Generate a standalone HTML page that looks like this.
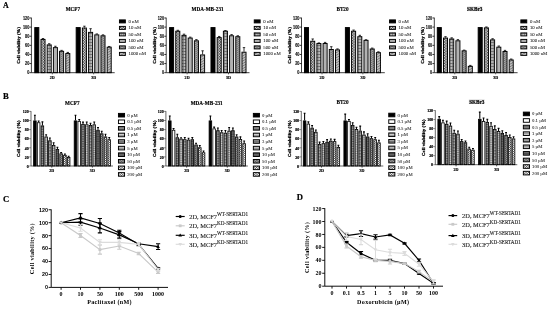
<!DOCTYPE html>
<html lang="en"><head><meta charset="utf-8"><title>Figure</title>
<style>html,body{margin:0;padding:0;background:#fff;}svg{display:block}</style></head>
<body><svg width="550" height="309" viewBox="0 0 550 309">
<rect width="550" height="309" fill="#fff"/>
<defs>
<filter id="soft" x="0" y="0" width="100%" height="100%" filterUnits="userSpaceOnUse"><feGaussianBlur stdDeviation="0.4"/></filter>
<pattern id="pa1" width="1.6" height="1.6" patternUnits="userSpaceOnUse"><rect width="1.6" height="1.6" fill="#fff"/><rect width="0.8" height="0.8" fill="#222"/><rect x="0.8" y="0.8" width="0.8" height="0.8" fill="#222"/></pattern>
<pattern id="pa2" width="2.4" height="3" patternUnits="userSpaceOnUse"><rect width="2.4" height="3" fill="#bababa"/><rect width="2.4" height="0.6" fill="#4a4a4a"/><rect x="1" width="0.5" height="3" fill="#5a5a5a"/></pattern>
<pattern id="pa3" width="1" height="1" patternUnits="userSpaceOnUse"><rect width="1" height="1" fill="#bebebe"/><rect width="0.5" height="0.5" fill="#909090"/></pattern>
<pattern id="pa4" width="1.8" height="1.8" patternUnits="userSpaceOnUse" patternTransform="rotate(-30)"><rect width="1.8" height="1.8" fill="#a8a8a8"/><rect width="1.8" height="0.6" fill="#555"/></pattern>
<pattern id="pa5" width="2.2" height="2.2" patternUnits="userSpaceOnUse" patternTransform="rotate(-30)"><rect width="2.2" height="2.2" fill="#bcbcbc"/><rect width="2.2" height="0.55" fill="#606060"/></pattern>

<pattern id="pb2" width="3.4" height="1.7" patternUnits="userSpaceOnUse"><rect width="3.4" height="1.7" fill="#9c9c9c"/><rect width="3.4" height="0.65" fill="#444"/></pattern>
<pattern id="pb3" width="2" height="1.8" patternUnits="userSpaceOnUse"><rect width="2" height="1.8" fill="#d2d2d2"/><rect width="2" height="0.6" fill="#777"/></pattern>
<pattern id="pb4" width="1.4" height="1.5" patternUnits="userSpaceOnUse"><rect width="1.4" height="1.5" fill="#aeaeae"/><rect width="1.4" height="0.6" fill="#555"/></pattern>
<pattern id="pb5" width="1.4" height="1.9" patternUnits="userSpaceOnUse"><rect width="1.4" height="1.9" fill="#c8c8c8"/><rect width="1.4" height="0.65" fill="#707070"/></pattern>
<pattern id="pb6" width="2" height="1.7" patternUnits="userSpaceOnUse"><rect width="2" height="1.7" fill="#707070"/><rect width="2" height="0.6" fill="#3a3a3a"/></pattern>
<pattern id="pb7" width="1.6" height="1.6" patternUnits="userSpaceOnUse" patternTransform="rotate(-35)"><rect width="1.6" height="1.6" fill="#a0a0a0"/><rect width="1.6" height="0.65" fill="#484848"/></pattern>
<pattern id="pb8" width="1.6" height="1.6" patternUnits="userSpaceOnUse" patternTransform="rotate(-40)"><rect width="1.6" height="1.6" fill="#fff"/><rect width="1.6" height="0.62" fill="#222"/></pattern>
<pattern id="pb9" width="1.6" height="1.6" patternUnits="userSpaceOnUse" patternTransform="rotate(40)"><rect width="1.6" height="1.6" fill="#fff"/><rect width="1.6" height="0.6" fill="#2a2a2a"/></pattern>
</defs><g filter="url(#soft)"><rect x="467.2" y="6.5" width="15.2" height="4.6" fill="#dedede"/>
<rect x="468.8" y="99.3" width="15.8" height="4.6" fill="#dedede"/>
<rect x="34.77" y="27.58" width="4.05" height="45.12" fill="#000" stroke="#000" stroke-width="0.95"/>
<path d="M43.00 38.96V38.50M41.80 38.50H44.20" stroke="#000" stroke-width="0.8" fill="none"/>
<rect x="40.98" y="39.43" width="4.05" height="33.27" fill="url(#pa1)" stroke="#000" stroke-width="0.95"/>
<path d="M49.20 44.43V43.74M48.00 43.74H50.40" stroke="#000" stroke-width="0.8" fill="none"/>
<rect x="47.17" y="44.90" width="4.05" height="27.80" fill="url(#pa2)" stroke="#000" stroke-width="0.95"/>
<path d="M55.40 47.16V46.25M54.20 46.25H56.60" stroke="#000" stroke-width="0.8" fill="none"/>
<rect x="53.38" y="47.64" width="4.05" height="25.06" fill="url(#pa3)" stroke="#000" stroke-width="0.95"/>
<path d="M61.60 50.81V50.36M60.40 50.36H62.80" stroke="#000" stroke-width="0.8" fill="none"/>
<rect x="59.57" y="51.29" width="4.05" height="21.41" fill="url(#pa4)" stroke="#000" stroke-width="0.95"/>
<path d="M67.80 53.09V52.41M66.60 52.41H69.00" stroke="#000" stroke-width="0.8" fill="none"/>
<rect x="65.77" y="53.57" width="4.05" height="19.13" fill="url(#pa5)" stroke="#000" stroke-width="0.95"/>
<rect x="76.17" y="27.58" width="4.05" height="45.12" fill="#000" stroke="#000" stroke-width="0.95"/>
<path d="M84.40 27.56V26.19M83.20 26.19H85.60" stroke="#000" stroke-width="0.8" fill="none"/>
<rect x="82.37" y="28.03" width="4.05" height="44.67" fill="url(#pa1)" stroke="#000" stroke-width="0.95"/>
<path d="M90.60 31.89V28.70M89.40 28.70H91.80" stroke="#000" stroke-width="0.8" fill="none"/>
<rect x="88.57" y="32.36" width="4.05" height="40.34" fill="url(#pa2)" stroke="#000" stroke-width="0.95"/>
<path d="M96.80 34.40V33.94M95.60 33.94H98.00" stroke="#000" stroke-width="0.8" fill="none"/>
<rect x="94.77" y="34.87" width="4.05" height="37.83" fill="url(#pa3)" stroke="#000" stroke-width="0.95"/>
<path d="M103.00 35.31V34.85M101.80 34.85H104.20" stroke="#000" stroke-width="0.8" fill="none"/>
<rect x="100.97" y="35.78" width="4.05" height="36.92" fill="url(#pa4)" stroke="#000" stroke-width="0.95"/>
<path d="M109.20 46.71V46.48M108.00 46.48H110.40" stroke="#000" stroke-width="0.8" fill="none"/>
<rect x="107.17" y="47.18" width="4.05" height="25.52" fill="url(#pa5)" stroke="#000" stroke-width="0.95"/>
<path d="M31.40 17.68V72.70H114.70" stroke="#000" stroke-width="0.75" fill="none"/>
<path d="M29.50 72.70H31.40" stroke="#000" stroke-width="0.8"/>
<text transform="translate(29.30 74.25) scale(0.86 1)" font-size="4.45" font-weight="bold" text-anchor="end" fill="#111" stroke="#111" stroke-width="0.12" font-family='"Liberation Sans","DejaVu Sans",sans-serif'>0</text>
<path d="M29.50 63.58H31.40" stroke="#000" stroke-width="0.8"/>
<text transform="translate(29.30 65.13) scale(0.86 1)" font-size="4.45" font-weight="bold" text-anchor="end" fill="#111" stroke="#111" stroke-width="0.12" font-family='"Liberation Sans","DejaVu Sans",sans-serif'>20</text>
<path d="M29.50 54.46H31.40" stroke="#000" stroke-width="0.8"/>
<text transform="translate(29.30 56.01) scale(0.86 1)" font-size="4.45" font-weight="bold" text-anchor="end" fill="#111" stroke="#111" stroke-width="0.12" font-family='"Liberation Sans","DejaVu Sans",sans-serif'>40</text>
<path d="M29.50 45.34H31.40" stroke="#000" stroke-width="0.8"/>
<text transform="translate(29.30 46.89) scale(0.86 1)" font-size="4.45" font-weight="bold" text-anchor="end" fill="#111" stroke="#111" stroke-width="0.12" font-family='"Liberation Sans","DejaVu Sans",sans-serif'>60</text>
<path d="M29.50 36.22H31.40" stroke="#000" stroke-width="0.8"/>
<text transform="translate(29.30 37.77) scale(0.86 1)" font-size="4.45" font-weight="bold" text-anchor="end" fill="#111" stroke="#111" stroke-width="0.12" font-family='"Liberation Sans","DejaVu Sans",sans-serif'>80</text>
<path d="M29.50 27.10H31.40" stroke="#000" stroke-width="0.8"/>
<text transform="translate(29.30 28.65) scale(0.86 1)" font-size="4.45" font-weight="bold" text-anchor="end" fill="#111" stroke="#111" stroke-width="0.12" font-family='"Liberation Sans","DejaVu Sans",sans-serif'>100</text>
<path d="M29.50 17.98H31.40" stroke="#000" stroke-width="0.8"/>
<text transform="translate(29.30 19.53) scale(0.86 1)" font-size="4.45" font-weight="bold" text-anchor="end" fill="#111" stroke="#111" stroke-width="0.12" font-family='"Liberation Sans","DejaVu Sans",sans-serif'>120</text>
<path d="M52.30 72.70v1.6" stroke="#000" stroke-width="0.7"/>
<text x="52.30" y="78.50" font-size="4.1" font-weight="bold" text-anchor="middle" fill="#000" font-family='"Liberation Serif","DejaVu Serif",serif' stroke="#000" stroke-width="0.15">2D</text>
<path d="M93.70 72.70v1.6" stroke="#000" stroke-width="0.7"/>
<text x="93.70" y="78.50" font-size="4.1" font-weight="bold" text-anchor="middle" fill="#000" font-family='"Liberation Serif","DejaVu Serif",serif' stroke="#000" stroke-width="0.15">3D</text>
<text x="72.90" y="10.90" font-size="5.2" font-weight="bold" text-anchor="middle" fill="#000" font-family='"Liberation Serif","DejaVu Serif",serif' stroke="#000" stroke-width="0.15">MCF7</text>
<text transform="translate(20.30 45.34) rotate(-90)" font-size="4.7" font-weight="bold" text-anchor="middle" stroke="#000" stroke-width="0.28" letter-spacing="0.12" font-family='"Liberation Serif","DejaVu Serif",serif'>Cell viability (%)</text>
<rect x="119.45" y="19.90" width="5.90" height="3.00" fill="#000" stroke="#000" stroke-width="0.95"/>
<text x="128.50" y="22.98" font-size="4.8" font-weight="normal" text-anchor="start" fill="#1a1a1a" font-family='"Liberation Serif","DejaVu Serif",serif' stroke="#1a1a1a" stroke-width="0.05">0 nM</text>
<rect x="119.45" y="26.40" width="5.90" height="3.00" fill="url(#pa1)" stroke="#000" stroke-width="0.95"/>
<text x="128.50" y="29.48" font-size="4.8" font-weight="normal" text-anchor="start" fill="#1a1a1a" font-family='"Liberation Serif","DejaVu Serif",serif' stroke="#1a1a1a" stroke-width="0.05">10 nM</text>
<rect x="119.45" y="32.90" width="5.90" height="3.00" fill="url(#pa2)" stroke="#000" stroke-width="0.95"/>
<text x="128.50" y="35.98" font-size="4.8" font-weight="normal" text-anchor="start" fill="#1a1a1a" font-family='"Liberation Serif","DejaVu Serif",serif' stroke="#1a1a1a" stroke-width="0.05">50 nM</text>
<rect x="119.45" y="39.40" width="5.90" height="3.00" fill="url(#pa3)" stroke="#000" stroke-width="0.95"/>
<text x="128.50" y="42.48" font-size="4.8" font-weight="normal" text-anchor="start" fill="#1a1a1a" font-family='"Liberation Serif","DejaVu Serif",serif' stroke="#1a1a1a" stroke-width="0.05">100 nM</text>
<rect x="119.45" y="45.90" width="5.90" height="3.00" fill="url(#pa4)" stroke="#000" stroke-width="0.95"/>
<text x="128.50" y="48.98" font-size="4.8" font-weight="normal" text-anchor="start" fill="#1a1a1a" font-family='"Liberation Serif","DejaVu Serif",serif' stroke="#1a1a1a" stroke-width="0.05">500 nM</text>
<rect x="119.45" y="52.40" width="5.90" height="3.00" fill="url(#pa5)" stroke="#000" stroke-width="0.95"/>
<text x="128.50" y="55.48" font-size="4.8" font-weight="normal" text-anchor="start" fill="#1a1a1a" font-family='"Liberation Serif","DejaVu Serif",serif' stroke="#1a1a1a" stroke-width="0.05">1000 nM</text>
<rect x="169.57" y="27.58" width="4.05" height="45.12" fill="#000" stroke="#000" stroke-width="0.95"/>
<path d="M177.80 30.75V30.29M176.60 30.29H179.00" stroke="#000" stroke-width="0.8" fill="none"/>
<rect x="175.77" y="31.22" width="4.05" height="41.48" fill="url(#pa1)" stroke="#000" stroke-width="0.95"/>
<path d="M184.00 34.85V34.17M182.80 34.17H185.20" stroke="#000" stroke-width="0.8" fill="none"/>
<rect x="181.97" y="35.33" width="4.05" height="37.37" fill="url(#pa2)" stroke="#000" stroke-width="0.95"/>
<path d="M190.20 37.59V37.13M189.00 37.13H191.40" stroke="#000" stroke-width="0.8" fill="none"/>
<rect x="188.17" y="38.06" width="4.05" height="34.64" fill="url(#pa3)" stroke="#000" stroke-width="0.95"/>
<path d="M196.40 40.32V39.64M195.20 39.64H197.60" stroke="#000" stroke-width="0.8" fill="none"/>
<rect x="194.38" y="40.80" width="4.05" height="31.90" fill="url(#pa4)" stroke="#000" stroke-width="0.95"/>
<path d="M202.60 54.46V50.81M201.40 50.81H203.80" stroke="#000" stroke-width="0.8" fill="none"/>
<rect x="200.57" y="54.94" width="4.05" height="17.77" fill="url(#pa5)" stroke="#000" stroke-width="0.95"/>
<rect x="210.97" y="27.58" width="4.05" height="45.12" fill="#000" stroke="#000" stroke-width="0.95"/>
<path d="M219.20 37.13V36.45M218.00 36.45H220.40" stroke="#000" stroke-width="0.8" fill="none"/>
<rect x="217.17" y="37.61" width="4.05" height="35.09" fill="url(#pa1)" stroke="#000" stroke-width="0.95"/>
<path d="M225.40 30.75V30.52M224.20 30.52H226.60" stroke="#000" stroke-width="0.8" fill="none"/>
<rect x="223.38" y="31.22" width="4.05" height="41.48" fill="url(#pa2)" stroke="#000" stroke-width="0.95"/>
<path d="M231.60 35.31V34.62M230.40 34.62H232.80" stroke="#000" stroke-width="0.8" fill="none"/>
<rect x="229.57" y="35.78" width="4.05" height="36.92" fill="url(#pa3)" stroke="#000" stroke-width="0.95"/>
<path d="M237.80 36.22V35.76M236.60 35.76H239.00" stroke="#000" stroke-width="0.8" fill="none"/>
<rect x="235.78" y="36.70" width="4.05" height="36.01" fill="url(#pa4)" stroke="#000" stroke-width="0.95"/>
<path d="M244.00 51.72V47.62M242.80 47.62H245.20" stroke="#000" stroke-width="0.8" fill="none"/>
<rect x="241.97" y="52.20" width="4.05" height="20.50" fill="url(#pa5)" stroke="#000" stroke-width="0.95"/>
<path d="M166.20 17.68V72.70H249.50" stroke="#000" stroke-width="0.75" fill="none"/>
<path d="M164.30 72.70H166.20" stroke="#000" stroke-width="0.8"/>
<text transform="translate(164.10 74.25) scale(0.86 1)" font-size="4.45" font-weight="bold" text-anchor="end" fill="#111" stroke="#111" stroke-width="0.12" font-family='"Liberation Sans","DejaVu Sans",sans-serif'>0</text>
<path d="M164.30 63.58H166.20" stroke="#000" stroke-width="0.8"/>
<text transform="translate(164.10 65.13) scale(0.86 1)" font-size="4.45" font-weight="bold" text-anchor="end" fill="#111" stroke="#111" stroke-width="0.12" font-family='"Liberation Sans","DejaVu Sans",sans-serif'>20</text>
<path d="M164.30 54.46H166.20" stroke="#000" stroke-width="0.8"/>
<text transform="translate(164.10 56.01) scale(0.86 1)" font-size="4.45" font-weight="bold" text-anchor="end" fill="#111" stroke="#111" stroke-width="0.12" font-family='"Liberation Sans","DejaVu Sans",sans-serif'>40</text>
<path d="M164.30 45.34H166.20" stroke="#000" stroke-width="0.8"/>
<text transform="translate(164.10 46.89) scale(0.86 1)" font-size="4.45" font-weight="bold" text-anchor="end" fill="#111" stroke="#111" stroke-width="0.12" font-family='"Liberation Sans","DejaVu Sans",sans-serif'>60</text>
<path d="M164.30 36.22H166.20" stroke="#000" stroke-width="0.8"/>
<text transform="translate(164.10 37.77) scale(0.86 1)" font-size="4.45" font-weight="bold" text-anchor="end" fill="#111" stroke="#111" stroke-width="0.12" font-family='"Liberation Sans","DejaVu Sans",sans-serif'>80</text>
<path d="M164.30 27.10H166.20" stroke="#000" stroke-width="0.8"/>
<text transform="translate(164.10 28.65) scale(0.86 1)" font-size="4.45" font-weight="bold" text-anchor="end" fill="#111" stroke="#111" stroke-width="0.12" font-family='"Liberation Sans","DejaVu Sans",sans-serif'>100</text>
<path d="M164.30 17.98H166.20" stroke="#000" stroke-width="0.8"/>
<text transform="translate(164.10 19.53) scale(0.86 1)" font-size="4.45" font-weight="bold" text-anchor="end" fill="#111" stroke="#111" stroke-width="0.12" font-family='"Liberation Sans","DejaVu Sans",sans-serif'>120</text>
<path d="M187.10 72.70v1.6" stroke="#000" stroke-width="0.7"/>
<text x="187.10" y="78.50" font-size="4.1" font-weight="bold" text-anchor="middle" fill="#000" font-family='"Liberation Serif","DejaVu Serif",serif' stroke="#000" stroke-width="0.15">2D</text>
<path d="M228.50 72.70v1.6" stroke="#000" stroke-width="0.7"/>
<text x="228.50" y="78.50" font-size="4.1" font-weight="bold" text-anchor="middle" fill="#000" font-family='"Liberation Serif","DejaVu Serif",serif' stroke="#000" stroke-width="0.15">3D</text>
<text x="207.60" y="10.90" font-size="5.2" font-weight="bold" text-anchor="middle" fill="#000" font-family='"Liberation Serif","DejaVu Serif",serif' stroke="#000" stroke-width="0.15">MDA-MB-231</text>
<text transform="translate(156.40 45.34) rotate(-90)" font-size="4.7" font-weight="bold" text-anchor="middle" stroke="#000" stroke-width="0.28" letter-spacing="0.12" font-family='"Liberation Serif","DejaVu Serif",serif'>Cell viability (%)</text>
<rect x="254.25" y="19.90" width="5.90" height="3.00" fill="#000" stroke="#000" stroke-width="0.95"/>
<text x="263.30" y="22.98" font-size="4.8" font-weight="normal" text-anchor="start" fill="#1a1a1a" font-family='"Liberation Serif","DejaVu Serif",serif' stroke="#1a1a1a" stroke-width="0.05">0 nM</text>
<rect x="254.25" y="26.40" width="5.90" height="3.00" fill="url(#pa1)" stroke="#000" stroke-width="0.95"/>
<text x="263.30" y="29.48" font-size="4.8" font-weight="normal" text-anchor="start" fill="#1a1a1a" font-family='"Liberation Serif","DejaVu Serif",serif' stroke="#1a1a1a" stroke-width="0.05">10 nM</text>
<rect x="254.25" y="32.90" width="5.90" height="3.00" fill="url(#pa2)" stroke="#000" stroke-width="0.95"/>
<text x="263.30" y="35.98" font-size="4.8" font-weight="normal" text-anchor="start" fill="#1a1a1a" font-family='"Liberation Serif","DejaVu Serif",serif' stroke="#1a1a1a" stroke-width="0.05">50 nM</text>
<rect x="254.25" y="39.40" width="5.90" height="3.00" fill="url(#pa3)" stroke="#000" stroke-width="0.95"/>
<text x="263.30" y="42.48" font-size="4.8" font-weight="normal" text-anchor="start" fill="#1a1a1a" font-family='"Liberation Serif","DejaVu Serif",serif' stroke="#1a1a1a" stroke-width="0.05">100 nM</text>
<rect x="254.25" y="45.90" width="5.90" height="3.00" fill="url(#pa4)" stroke="#000" stroke-width="0.95"/>
<text x="263.30" y="48.98" font-size="4.8" font-weight="normal" text-anchor="start" fill="#1a1a1a" font-family='"Liberation Serif","DejaVu Serif",serif' stroke="#1a1a1a" stroke-width="0.05">500 nM</text>
<rect x="254.25" y="52.40" width="5.90" height="3.00" fill="url(#pa5)" stroke="#000" stroke-width="0.95"/>
<text x="263.30" y="55.48" font-size="4.8" font-weight="normal" text-anchor="start" fill="#1a1a1a" font-family='"Liberation Serif","DejaVu Serif",serif' stroke="#1a1a1a" stroke-width="0.05">1000 nM</text>
<rect x="304.48" y="27.58" width="4.05" height="45.12" fill="#000" stroke="#000" stroke-width="0.95"/>
<path d="M312.70 40.78V38.96M311.50 38.96H313.90" stroke="#000" stroke-width="0.8" fill="none"/>
<rect x="310.68" y="41.26" width="4.05" height="31.45" fill="url(#pa1)" stroke="#000" stroke-width="0.95"/>
<path d="M318.90 43.06V42.92M317.70 42.92H320.10" stroke="#000" stroke-width="0.8" fill="none"/>
<rect x="316.88" y="43.54" width="4.05" height="29.16" fill="url(#pa2)" stroke="#000" stroke-width="0.95"/>
<path d="M325.10 43.06V42.38M323.90 42.38H326.30" stroke="#000" stroke-width="0.8" fill="none"/>
<rect x="323.08" y="43.54" width="4.05" height="29.16" fill="url(#pa3)" stroke="#000" stroke-width="0.95"/>
<path d="M331.30 48.99V46.71M330.10 46.71H332.50" stroke="#000" stroke-width="0.8" fill="none"/>
<rect x="329.28" y="49.46" width="4.05" height="23.24" fill="url(#pa4)" stroke="#000" stroke-width="0.95"/>
<path d="M337.50 49.44V48.90M336.30 48.90H338.70" stroke="#000" stroke-width="0.8" fill="none"/>
<rect x="335.48" y="49.92" width="4.05" height="22.78" fill="url(#pa5)" stroke="#000" stroke-width="0.95"/>
<rect x="345.38" y="27.58" width="4.05" height="45.12" fill="#000" stroke="#000" stroke-width="0.95"/>
<path d="M353.60 30.75V30.06M352.40 30.06H354.80" stroke="#000" stroke-width="0.8" fill="none"/>
<rect x="351.57" y="31.22" width="4.05" height="41.48" fill="url(#pa1)" stroke="#000" stroke-width="0.95"/>
<path d="M359.80 36.22V35.31M358.60 35.31H361.00" stroke="#000" stroke-width="0.8" fill="none"/>
<rect x="357.77" y="36.70" width="4.05" height="36.01" fill="url(#pa2)" stroke="#000" stroke-width="0.95"/>
<path d="M366.00 39.87V39.73M364.80 39.73H367.20" stroke="#000" stroke-width="0.8" fill="none"/>
<rect x="363.98" y="40.34" width="4.05" height="32.36" fill="url(#pa3)" stroke="#000" stroke-width="0.95"/>
<path d="M372.20 48.53V48.08M371.00 48.08H373.40" stroke="#000" stroke-width="0.8" fill="none"/>
<rect x="370.18" y="49.01" width="4.05" height="23.69" fill="url(#pa4)" stroke="#000" stroke-width="0.95"/>
<path d="M378.40 52.18V51.82M377.20 51.82H379.60" stroke="#000" stroke-width="0.8" fill="none"/>
<rect x="376.38" y="52.66" width="4.05" height="20.04" fill="url(#pa5)" stroke="#000" stroke-width="0.95"/>
<path d="M301.50 17.68V72.70H384.80" stroke="#000" stroke-width="0.75" fill="none"/>
<path d="M299.60 72.70H301.50" stroke="#000" stroke-width="0.8"/>
<text transform="translate(299.40 74.25) scale(0.86 1)" font-size="4.45" font-weight="bold" text-anchor="end" fill="#111" stroke="#111" stroke-width="0.12" font-family='"Liberation Sans","DejaVu Sans",sans-serif'>0</text>
<path d="M299.60 63.58H301.50" stroke="#000" stroke-width="0.8"/>
<text transform="translate(299.40 65.13) scale(0.86 1)" font-size="4.45" font-weight="bold" text-anchor="end" fill="#111" stroke="#111" stroke-width="0.12" font-family='"Liberation Sans","DejaVu Sans",sans-serif'>20</text>
<path d="M299.60 54.46H301.50" stroke="#000" stroke-width="0.8"/>
<text transform="translate(299.40 56.01) scale(0.86 1)" font-size="4.45" font-weight="bold" text-anchor="end" fill="#111" stroke="#111" stroke-width="0.12" font-family='"Liberation Sans","DejaVu Sans",sans-serif'>40</text>
<path d="M299.60 45.34H301.50" stroke="#000" stroke-width="0.8"/>
<text transform="translate(299.40 46.89) scale(0.86 1)" font-size="4.45" font-weight="bold" text-anchor="end" fill="#111" stroke="#111" stroke-width="0.12" font-family='"Liberation Sans","DejaVu Sans",sans-serif'>60</text>
<path d="M299.60 36.22H301.50" stroke="#000" stroke-width="0.8"/>
<text transform="translate(299.40 37.77) scale(0.86 1)" font-size="4.45" font-weight="bold" text-anchor="end" fill="#111" stroke="#111" stroke-width="0.12" font-family='"Liberation Sans","DejaVu Sans",sans-serif'>80</text>
<path d="M299.60 27.10H301.50" stroke="#000" stroke-width="0.8"/>
<text transform="translate(299.40 28.65) scale(0.86 1)" font-size="4.45" font-weight="bold" text-anchor="end" fill="#111" stroke="#111" stroke-width="0.12" font-family='"Liberation Sans","DejaVu Sans",sans-serif'>100</text>
<path d="M299.60 17.98H301.50" stroke="#000" stroke-width="0.8"/>
<text transform="translate(299.40 19.53) scale(0.86 1)" font-size="4.45" font-weight="bold" text-anchor="end" fill="#111" stroke="#111" stroke-width="0.12" font-family='"Liberation Sans","DejaVu Sans",sans-serif'>120</text>
<path d="M322.00 72.70v1.6" stroke="#000" stroke-width="0.7"/>
<text x="322.00" y="78.50" font-size="4.1" font-weight="bold" text-anchor="middle" fill="#000" font-family='"Liberation Serif","DejaVu Serif",serif' stroke="#000" stroke-width="0.15">2D</text>
<path d="M362.90 72.70v1.6" stroke="#000" stroke-width="0.7"/>
<text x="362.90" y="78.50" font-size="4.1" font-weight="bold" text-anchor="middle" fill="#000" font-family='"Liberation Serif","DejaVu Serif",serif' stroke="#000" stroke-width="0.15">3D</text>
<text x="342.50" y="10.90" font-size="5.2" font-weight="bold" text-anchor="middle" fill="#000" font-family='"Liberation Serif","DejaVu Serif",serif' stroke="#000" stroke-width="0.15">BT20</text>
<text transform="translate(290.80 45.34) rotate(-90)" font-size="4.7" font-weight="bold" text-anchor="middle" stroke="#000" stroke-width="0.28" letter-spacing="0.12" font-family='"Liberation Serif","DejaVu Serif",serif'>Cell viability (%)</text>
<rect x="389.55" y="19.90" width="5.90" height="3.00" fill="#000" stroke="#000" stroke-width="0.95"/>
<text x="398.60" y="22.98" font-size="4.8" font-weight="normal" text-anchor="start" fill="#1a1a1a" font-family='"Liberation Serif","DejaVu Serif",serif' stroke="#1a1a1a" stroke-width="0.05">0 nM</text>
<rect x="389.55" y="26.40" width="5.90" height="3.00" fill="url(#pa1)" stroke="#000" stroke-width="0.95"/>
<text x="398.60" y="29.48" font-size="4.8" font-weight="normal" text-anchor="start" fill="#1a1a1a" font-family='"Liberation Serif","DejaVu Serif",serif' stroke="#1a1a1a" stroke-width="0.05">10 nM</text>
<rect x="389.55" y="32.90" width="5.90" height="3.00" fill="url(#pa2)" stroke="#000" stroke-width="0.95"/>
<text x="398.60" y="35.98" font-size="4.8" font-weight="normal" text-anchor="start" fill="#1a1a1a" font-family='"Liberation Serif","DejaVu Serif",serif' stroke="#1a1a1a" stroke-width="0.05">50 nM</text>
<rect x="389.55" y="39.40" width="5.90" height="3.00" fill="url(#pa3)" stroke="#000" stroke-width="0.95"/>
<text x="398.60" y="42.48" font-size="4.8" font-weight="normal" text-anchor="start" fill="#1a1a1a" font-family='"Liberation Serif","DejaVu Serif",serif' stroke="#1a1a1a" stroke-width="0.05">100 nM</text>
<rect x="389.55" y="45.90" width="5.90" height="3.00" fill="url(#pa4)" stroke="#000" stroke-width="0.95"/>
<text x="398.60" y="48.98" font-size="4.8" font-weight="normal" text-anchor="start" fill="#1a1a1a" font-family='"Liberation Serif","DejaVu Serif",serif' stroke="#1a1a1a" stroke-width="0.05">500 nM</text>
<rect x="389.55" y="52.40" width="5.90" height="3.00" fill="url(#pa5)" stroke="#000" stroke-width="0.95"/>
<text x="398.60" y="55.48" font-size="4.8" font-weight="normal" text-anchor="start" fill="#1a1a1a" font-family='"Liberation Serif","DejaVu Serif",serif' stroke="#1a1a1a" stroke-width="0.05">1000 nM</text>
<rect x="437.28" y="27.58" width="4.05" height="45.12" fill="#000" stroke="#000" stroke-width="0.95"/>
<path d="M445.50 37.59V36.68M444.30 36.68H446.70" stroke="#000" stroke-width="0.8" fill="none"/>
<rect x="443.48" y="38.06" width="4.05" height="34.64" fill="url(#pa1)" stroke="#000" stroke-width="0.95"/>
<path d="M451.70 38.50V37.82M450.50 37.82H452.90" stroke="#000" stroke-width="0.8" fill="none"/>
<rect x="449.68" y="38.98" width="4.05" height="33.73" fill="url(#pa2)" stroke="#000" stroke-width="0.95"/>
<path d="M457.90 40.32V39.64M456.70 39.64H459.10" stroke="#000" stroke-width="0.8" fill="none"/>
<rect x="455.88" y="40.80" width="4.05" height="31.90" fill="url(#pa3)" stroke="#000" stroke-width="0.95"/>
<path d="M464.10 50.36V50.13M462.90 50.13H465.30" stroke="#000" stroke-width="0.8" fill="none"/>
<rect x="462.08" y="50.83" width="4.05" height="21.87" fill="url(#pa4)" stroke="#000" stroke-width="0.95"/>
<path d="M470.30 65.86V65.40M469.10 65.40H471.50" stroke="#000" stroke-width="0.8" fill="none"/>
<rect x="468.28" y="66.33" width="4.05" height="6.37" fill="url(#pa5)" stroke="#000" stroke-width="0.95"/>
<rect x="478.18" y="27.58" width="4.05" height="45.12" fill="#000" stroke="#000" stroke-width="0.95"/>
<path d="M486.40 27.42V26.96M485.20 26.96H487.60" stroke="#000" stroke-width="0.8" fill="none"/>
<rect x="484.38" y="27.89" width="4.05" height="44.81" fill="url(#pa1)" stroke="#000" stroke-width="0.95"/>
<path d="M492.60 39.41V38.73M491.40 38.73H493.80" stroke="#000" stroke-width="0.8" fill="none"/>
<rect x="490.57" y="39.89" width="4.05" height="32.81" fill="url(#pa2)" stroke="#000" stroke-width="0.95"/>
<path d="M498.80 46.71V46.02M497.60 46.02H500.00" stroke="#000" stroke-width="0.8" fill="none"/>
<rect x="496.78" y="47.18" width="4.05" height="25.52" fill="url(#pa3)" stroke="#000" stroke-width="0.95"/>
<path d="M505.00 51.04V50.36M503.80 50.36H506.20" stroke="#000" stroke-width="0.8" fill="none"/>
<rect x="502.98" y="51.52" width="4.05" height="21.18" fill="url(#pa4)" stroke="#000" stroke-width="0.95"/>
<path d="M511.20 59.48V59.02M510.00 59.02H512.40" stroke="#000" stroke-width="0.8" fill="none"/>
<rect x="509.18" y="59.95" width="4.05" height="12.75" fill="url(#pa5)" stroke="#000" stroke-width="0.95"/>
<path d="M434.30 17.68V72.70H517.60" stroke="#000" stroke-width="0.75" fill="none"/>
<path d="M432.40 72.70H434.30" stroke="#000" stroke-width="0.8"/>
<text transform="translate(432.20 74.25) scale(0.86 1)" font-size="4.45" font-weight="bold" text-anchor="end" fill="#111" stroke="#111" stroke-width="0.12" font-family='"Liberation Sans","DejaVu Sans",sans-serif'>0</text>
<path d="M432.40 63.58H434.30" stroke="#000" stroke-width="0.8"/>
<text transform="translate(432.20 65.13) scale(0.86 1)" font-size="4.45" font-weight="bold" text-anchor="end" fill="#111" stroke="#111" stroke-width="0.12" font-family='"Liberation Sans","DejaVu Sans",sans-serif'>20</text>
<path d="M432.40 54.46H434.30" stroke="#000" stroke-width="0.8"/>
<text transform="translate(432.20 56.01) scale(0.86 1)" font-size="4.45" font-weight="bold" text-anchor="end" fill="#111" stroke="#111" stroke-width="0.12" font-family='"Liberation Sans","DejaVu Sans",sans-serif'>40</text>
<path d="M432.40 45.34H434.30" stroke="#000" stroke-width="0.8"/>
<text transform="translate(432.20 46.89) scale(0.86 1)" font-size="4.45" font-weight="bold" text-anchor="end" fill="#111" stroke="#111" stroke-width="0.12" font-family='"Liberation Sans","DejaVu Sans",sans-serif'>60</text>
<path d="M432.40 36.22H434.30" stroke="#000" stroke-width="0.8"/>
<text transform="translate(432.20 37.77) scale(0.86 1)" font-size="4.45" font-weight="bold" text-anchor="end" fill="#111" stroke="#111" stroke-width="0.12" font-family='"Liberation Sans","DejaVu Sans",sans-serif'>80</text>
<path d="M432.40 27.10H434.30" stroke="#000" stroke-width="0.8"/>
<text transform="translate(432.20 28.65) scale(0.86 1)" font-size="4.45" font-weight="bold" text-anchor="end" fill="#111" stroke="#111" stroke-width="0.12" font-family='"Liberation Sans","DejaVu Sans",sans-serif'>100</text>
<path d="M432.40 17.98H434.30" stroke="#000" stroke-width="0.8"/>
<text transform="translate(432.20 19.53) scale(0.86 1)" font-size="4.45" font-weight="bold" text-anchor="end" fill="#111" stroke="#111" stroke-width="0.12" font-family='"Liberation Sans","DejaVu Sans",sans-serif'>120</text>
<path d="M454.80 72.70v1.6" stroke="#000" stroke-width="0.7"/>
<text x="454.80" y="78.50" font-size="4.1" font-weight="bold" text-anchor="middle" fill="#000" font-family='"Liberation Serif","DejaVu Serif",serif' stroke="#000" stroke-width="0.15">2D</text>
<path d="M495.70 72.70v1.6" stroke="#000" stroke-width="0.7"/>
<text x="495.70" y="78.50" font-size="4.1" font-weight="bold" text-anchor="middle" fill="#000" font-family='"Liberation Serif","DejaVu Serif",serif' stroke="#000" stroke-width="0.15">3D</text>
<text x="474.70" y="10.90" font-size="5.2" font-weight="bold" text-anchor="middle" fill="#000" font-family='"Liberation Serif","DejaVu Serif",serif' stroke="#000" stroke-width="0.15">SKBr3</text>
<text transform="translate(423.70 45.34) rotate(-90)" font-size="4.7" font-weight="bold" text-anchor="middle" stroke="#000" stroke-width="0.28" letter-spacing="0.12" font-family='"Liberation Serif","DejaVu Serif",serif'>Cell viability (%)</text>
<rect x="520.85" y="19.90" width="5.90" height="3.00" fill="#000" stroke="#000" stroke-width="0.95"/>
<text x="529.90" y="22.98" font-size="4.8" font-weight="normal" text-anchor="start" fill="#1a1a1a" font-family='"Liberation Serif","DejaVu Serif",serif' stroke="#1a1a1a" stroke-width="0.05">0 nM</text>
<rect x="520.85" y="26.40" width="5.90" height="3.00" fill="url(#pa1)" stroke="#000" stroke-width="0.95"/>
<text x="529.90" y="29.48" font-size="4.8" font-weight="normal" text-anchor="start" fill="#1a1a1a" font-family='"Liberation Serif","DejaVu Serif",serif' stroke="#1a1a1a" stroke-width="0.05">10 nM</text>
<rect x="520.85" y="32.90" width="5.90" height="3.00" fill="url(#pa2)" stroke="#000" stroke-width="0.95"/>
<text x="529.90" y="35.98" font-size="4.8" font-weight="normal" text-anchor="start" fill="#1a1a1a" font-family='"Liberation Serif","DejaVu Serif",serif' stroke="#1a1a1a" stroke-width="0.05">50 nM</text>
<rect x="520.85" y="39.40" width="5.90" height="3.00" fill="url(#pa3)" stroke="#000" stroke-width="0.95"/>
<text x="529.90" y="42.48" font-size="4.8" font-weight="normal" text-anchor="start" fill="#1a1a1a" font-family='"Liberation Serif","DejaVu Serif",serif' stroke="#1a1a1a" stroke-width="0.05">100 nM</text>
<rect x="520.85" y="45.90" width="5.90" height="3.00" fill="url(#pa4)" stroke="#000" stroke-width="0.95"/>
<text x="529.90" y="48.98" font-size="4.8" font-weight="normal" text-anchor="start" fill="#1a1a1a" font-family='"Liberation Serif","DejaVu Serif",serif' stroke="#1a1a1a" stroke-width="0.05">500 nM</text>
<rect x="520.85" y="52.40" width="5.90" height="3.00" fill="url(#pa5)" stroke="#000" stroke-width="0.95"/>
<text x="529.90" y="55.48" font-size="4.8" font-weight="normal" text-anchor="start" fill="#1a1a1a" font-family='"Liberation Serif","DejaVu Serif",serif' stroke="#1a1a1a" stroke-width="0.05">1000 nM</text>
<path d="M34.90 120.50V115.27M33.95 115.27H35.85" stroke="#000" stroke-width="1.05" fill="none"/>
<rect x="33.60" y="120.90" width="2.60" height="45.10" fill="#000" stroke="#000" stroke-width="0.8"/>
<path d="M38.65 122.32V120.95M37.70 120.95H39.60" stroke="#000" stroke-width="1.05" fill="none"/>
<rect x="37.35" y="122.72" width="2.60" height="43.28" fill="#fff" stroke="#000" stroke-width="0.8"/>
<path d="M42.40 125.50V121.86M41.45 121.86H43.35" stroke="#000" stroke-width="1.05" fill="none"/>
<rect x="41.10" y="125.91" width="2.60" height="40.10" fill="url(#pb2)" stroke="#000" stroke-width="0.8"/>
<path d="M46.15 136.56V134.74M45.20 134.74H47.10" stroke="#000" stroke-width="1.05" fill="none"/>
<rect x="44.85" y="136.96" width="2.60" height="29.04" fill="url(#pb3)" stroke="#000" stroke-width="0.8"/>
<path d="M49.90 140.34V138.06M48.95 138.06H50.85" stroke="#000" stroke-width="1.05" fill="none"/>
<rect x="48.60" y="140.74" width="2.60" height="25.26" fill="url(#pb4)" stroke="#000" stroke-width="0.8"/>
<path d="M53.65 145.07V142.79M52.70 142.79H54.60" stroke="#000" stroke-width="1.05" fill="none"/>
<rect x="52.35" y="145.47" width="2.60" height="20.53" fill="url(#pb5)" stroke="#000" stroke-width="0.8"/>
<path d="M57.40 149.16V147.34M56.45 147.34H58.35" stroke="#000" stroke-width="1.05" fill="none"/>
<rect x="56.10" y="149.56" width="2.60" height="16.44" fill="url(#pb6)" stroke="#000" stroke-width="0.8"/>
<path d="M61.15 153.44V152.53M60.20 152.53H62.10" stroke="#000" stroke-width="1.05" fill="none"/>
<rect x="59.85" y="153.84" width="2.60" height="12.16" fill="url(#pb7)" stroke="#000" stroke-width="0.8"/>
<path d="M64.90 154.90V153.99M63.95 153.99H65.85" stroke="#000" stroke-width="1.05" fill="none"/>
<rect x="63.60" y="155.30" width="2.60" height="10.70" fill="url(#pb8)" stroke="#000" stroke-width="0.8"/>
<path d="M68.65 156.99V156.31M67.70 156.31H69.60" stroke="#000" stroke-width="1.05" fill="none"/>
<rect x="67.35" y="157.39" width="2.60" height="8.61" fill="url(#pb9)" stroke="#000" stroke-width="0.8"/>
<path d="M75.50 120.50V115.27M74.55 115.27H76.45" stroke="#000" stroke-width="1.05" fill="none"/>
<rect x="74.20" y="120.90" width="2.60" height="45.10" fill="#000" stroke="#000" stroke-width="0.8"/>
<path d="M79.25 120.95V119.59M78.30 119.59H80.20" stroke="#000" stroke-width="1.05" fill="none"/>
<rect x="77.95" y="121.36" width="2.60" height="44.65" fill="#fff" stroke="#000" stroke-width="0.8"/>
<path d="M83.00 123.96V122.14M82.05 122.14H83.95" stroke="#000" stroke-width="1.05" fill="none"/>
<rect x="81.70" y="124.36" width="2.60" height="41.64" fill="url(#pb2)" stroke="#000" stroke-width="0.8"/>
<path d="M86.75 124.37V122.09M85.80 122.09H87.70" stroke="#000" stroke-width="1.05" fill="none"/>
<rect x="85.45" y="124.77" width="2.60" height="41.23" fill="url(#pb3)" stroke="#000" stroke-width="0.8"/>
<path d="M90.50 125.05V123.23M89.55 123.23H91.45" stroke="#000" stroke-width="1.05" fill="none"/>
<rect x="89.20" y="125.45" width="2.60" height="40.55" fill="url(#pb4)" stroke="#000" stroke-width="0.8"/>
<path d="M94.25 124.37V122.09M93.30 122.09H95.20" stroke="#000" stroke-width="1.05" fill="none"/>
<rect x="92.95" y="124.77" width="2.60" height="41.23" fill="url(#pb5)" stroke="#000" stroke-width="0.8"/>
<path d="M98.00 129.83V127.55M97.05 127.55H98.95" stroke="#000" stroke-width="1.05" fill="none"/>
<rect x="96.70" y="130.23" width="2.60" height="35.77" fill="url(#pb6)" stroke="#000" stroke-width="0.8"/>
<path d="M101.75 133.42V131.15M100.80 131.15H102.70" stroke="#000" stroke-width="1.05" fill="none"/>
<rect x="100.45" y="133.82" width="2.60" height="32.18" fill="url(#pb7)" stroke="#000" stroke-width="0.8"/>
<path d="M105.50 136.56V134.29M104.55 134.29H106.45" stroke="#000" stroke-width="1.05" fill="none"/>
<rect x="104.20" y="136.96" width="2.60" height="29.04" fill="url(#pb8)" stroke="#000" stroke-width="0.8"/>
<path d="M109.25 139.29V137.47M108.30 137.47H110.20" stroke="#000" stroke-width="1.05" fill="none"/>
<rect x="107.95" y="139.69" width="2.60" height="26.31" fill="url(#pb9)" stroke="#000" stroke-width="0.8"/>
<path d="M31.00 111.10V166.00H113.00" stroke="#000" stroke-width="0.6" fill="none"/>
<path d="M29.10 166.00H31.00" stroke="#333" stroke-width="0.55"/>
<text transform="translate(28.80 167.72) scale(0.9 1)" font-size="4.3999999999999995" font-weight="bold" text-anchor="end" fill="#000" stroke="#000" stroke-width="0.2" font-family='"Liberation Serif","DejaVu Serif",serif'>0</text>
<path d="M29.10 156.90H31.00" stroke="#333" stroke-width="0.55"/>
<text transform="translate(28.80 158.62) scale(0.9 1)" font-size="4.3999999999999995" font-weight="bold" text-anchor="end" fill="#000" stroke="#000" stroke-width="0.2" font-family='"Liberation Serif","DejaVu Serif",serif'>20</text>
<path d="M29.10 147.80H31.00" stroke="#333" stroke-width="0.55"/>
<text transform="translate(28.80 149.52) scale(0.9 1)" font-size="4.3999999999999995" font-weight="bold" text-anchor="end" fill="#000" stroke="#000" stroke-width="0.2" font-family='"Liberation Serif","DejaVu Serif",serif'>40</text>
<path d="M29.10 138.70H31.00" stroke="#333" stroke-width="0.55"/>
<text transform="translate(28.80 140.42) scale(0.9 1)" font-size="4.3999999999999995" font-weight="bold" text-anchor="end" fill="#000" stroke="#000" stroke-width="0.2" font-family='"Liberation Serif","DejaVu Serif",serif'>60</text>
<path d="M29.10 129.60H31.00" stroke="#333" stroke-width="0.55"/>
<text transform="translate(28.80 131.32) scale(0.9 1)" font-size="4.3999999999999995" font-weight="bold" text-anchor="end" fill="#000" stroke="#000" stroke-width="0.2" font-family='"Liberation Serif","DejaVu Serif",serif'>80</text>
<path d="M29.10 120.50H31.00" stroke="#333" stroke-width="0.55"/>
<text transform="translate(28.80 122.22) scale(0.9 1)" font-size="4.3999999999999995" font-weight="bold" text-anchor="end" fill="#000" stroke="#000" stroke-width="0.2" font-family='"Liberation Serif","DejaVu Serif",serif'>100</text>
<path d="M29.10 111.40H31.00" stroke="#333" stroke-width="0.55"/>
<text transform="translate(28.80 113.12) scale(0.9 1)" font-size="4.3999999999999995" font-weight="bold" text-anchor="end" fill="#000" stroke="#000" stroke-width="0.2" font-family='"Liberation Serif","DejaVu Serif",serif'>120</text>
<path d="M51.78 166.00v1.6" stroke="#000" stroke-width="0.7"/>
<text x="51.78" y="171.80" font-size="4.1" font-weight="bold" text-anchor="middle" fill="#000" font-family='"Liberation Serif","DejaVu Serif",serif' stroke="#000" stroke-width="0.15">2D</text>
<path d="M92.38 166.00v1.6" stroke="#000" stroke-width="0.7"/>
<text x="92.38" y="171.80" font-size="4.1" font-weight="bold" text-anchor="middle" fill="#000" font-family='"Liberation Serif","DejaVu Serif",serif' stroke="#000" stroke-width="0.15">3D</text>
<text x="72.30" y="104.50" font-size="5.2" font-weight="bold" text-anchor="middle" fill="#000" font-family='"Liberation Serif","DejaVu Serif",serif' stroke="#000" stroke-width="0.15">MCF7</text>
<text transform="translate(19.90 138.70) rotate(-90)" font-size="4.7" font-weight="bold" text-anchor="middle" stroke="#000" stroke-width="0.28" letter-spacing="0.12" font-family='"Liberation Serif","DejaVu Serif",serif'>Cell viability (%)</text>
<rect x="118.45" y="113.40" width="6.10" height="3.60" fill="#000" stroke="#000" stroke-width="0.95"/>
<text x="127.20" y="116.75" font-size="4.7" font-weight="normal" text-anchor="start" fill="#1a1a1a" font-family='"Liberation Serif","DejaVu Serif",serif' stroke="#1a1a1a" stroke-width="0.05">0 µM</text>
<rect x="118.45" y="119.98" width="6.10" height="3.60" fill="#fff" stroke="#000" stroke-width="0.95"/>
<text x="127.20" y="123.33" font-size="4.7" font-weight="normal" text-anchor="start" fill="#1a1a1a" font-family='"Liberation Serif","DejaVu Serif",serif' stroke="#1a1a1a" stroke-width="0.05">0.1 µM</text>
<rect x="118.45" y="126.56" width="6.10" height="3.60" fill="url(#pb2)" stroke="#000" stroke-width="0.95"/>
<text x="127.20" y="129.91" font-size="4.7" font-weight="normal" text-anchor="start" fill="#1a1a1a" font-family='"Liberation Serif","DejaVu Serif",serif' stroke="#1a1a1a" stroke-width="0.05">0.5 µM</text>
<rect x="118.45" y="133.14" width="6.10" height="3.60" fill="url(#pb3)" stroke="#000" stroke-width="0.95"/>
<text x="127.20" y="136.49" font-size="4.7" font-weight="normal" text-anchor="start" fill="#1a1a1a" font-family='"Liberation Serif","DejaVu Serif",serif' stroke="#1a1a1a" stroke-width="0.05">1 µM</text>
<rect x="118.45" y="139.72" width="6.10" height="3.60" fill="url(#pb4)" stroke="#000" stroke-width="0.95"/>
<text x="127.20" y="143.07" font-size="4.7" font-weight="normal" text-anchor="start" fill="#1a1a1a" font-family='"Liberation Serif","DejaVu Serif",serif' stroke="#1a1a1a" stroke-width="0.05">3 µM</text>
<rect x="118.45" y="146.30" width="6.10" height="3.60" fill="url(#pb5)" stroke="#000" stroke-width="0.95"/>
<text x="127.20" y="149.65" font-size="4.7" font-weight="normal" text-anchor="start" fill="#1a1a1a" font-family='"Liberation Serif","DejaVu Serif",serif' stroke="#1a1a1a" stroke-width="0.05">5 µM</text>
<rect x="118.45" y="152.88" width="6.10" height="3.60" fill="url(#pb6)" stroke="#000" stroke-width="0.95"/>
<text x="127.20" y="156.23" font-size="4.7" font-weight="normal" text-anchor="start" fill="#1a1a1a" font-family='"Liberation Serif","DejaVu Serif",serif' stroke="#1a1a1a" stroke-width="0.05">10 µM</text>
<rect x="118.45" y="159.46" width="6.10" height="3.60" fill="url(#pb7)" stroke="#000" stroke-width="0.95"/>
<text x="127.20" y="162.81" font-size="4.7" font-weight="normal" text-anchor="start" fill="#1a1a1a" font-family='"Liberation Serif","DejaVu Serif",serif' stroke="#1a1a1a" stroke-width="0.05">50 µM</text>
<rect x="118.45" y="166.04" width="6.10" height="3.60" fill="url(#pb8)" stroke="#000" stroke-width="0.95"/>
<text x="127.20" y="169.39" font-size="4.7" font-weight="normal" text-anchor="start" fill="#1a1a1a" font-family='"Liberation Serif","DejaVu Serif",serif' stroke="#1a1a1a" stroke-width="0.05">100 µM</text>
<rect x="118.45" y="172.62" width="6.10" height="3.60" fill="url(#pb9)" stroke="#000" stroke-width="0.95"/>
<text x="127.20" y="175.97" font-size="4.7" font-weight="normal" text-anchor="start" fill="#1a1a1a" font-family='"Liberation Serif","DejaVu Serif",serif' stroke="#1a1a1a" stroke-width="0.05">200 µM</text>
<path d="M169.80 120.50V115.95M168.85 115.95H170.75" stroke="#000" stroke-width="1.05" fill="none"/>
<rect x="168.50" y="120.90" width="2.60" height="45.10" fill="#000" stroke="#000" stroke-width="0.8"/>
<path d="M173.55 129.83V128.46M172.60 128.46H174.50" stroke="#000" stroke-width="1.05" fill="none"/>
<rect x="172.25" y="130.23" width="2.60" height="35.77" fill="#fff" stroke="#000" stroke-width="0.8"/>
<path d="M177.30 137.34V134.15M176.35 134.15H178.25" stroke="#000" stroke-width="1.05" fill="none"/>
<rect x="176.00" y="137.74" width="2.60" height="28.27" fill="url(#pb2)" stroke="#000" stroke-width="0.8"/>
<path d="M181.05 138.70V137.79M180.10 137.79H182.00" stroke="#000" stroke-width="1.05" fill="none"/>
<rect x="179.75" y="139.10" width="2.60" height="26.90" fill="url(#pb3)" stroke="#000" stroke-width="0.8"/>
<path d="M184.80 139.29V137.47M183.85 137.47H185.75" stroke="#000" stroke-width="1.05" fill="none"/>
<rect x="183.50" y="139.69" width="2.60" height="26.31" fill="url(#pb4)" stroke="#000" stroke-width="0.8"/>
<path d="M188.55 139.70V138.34M187.60 138.34H189.50" stroke="#000" stroke-width="1.05" fill="none"/>
<rect x="187.25" y="140.10" width="2.60" height="25.90" fill="url(#pb5)" stroke="#000" stroke-width="0.8"/>
<path d="M192.30 139.29V137.47M191.35 137.47H193.25" stroke="#000" stroke-width="1.05" fill="none"/>
<rect x="191.00" y="139.69" width="2.60" height="26.31" fill="url(#pb6)" stroke="#000" stroke-width="0.8"/>
<path d="M196.05 144.62V143.25M195.10 143.25H197.00" stroke="#000" stroke-width="1.05" fill="none"/>
<rect x="194.75" y="145.02" width="2.60" height="20.99" fill="url(#pb7)" stroke="#000" stroke-width="0.8"/>
<path d="M199.80 147.34V145.53M198.85 145.53H200.75" stroke="#000" stroke-width="1.05" fill="none"/>
<rect x="198.50" y="147.75" width="2.60" height="18.26" fill="url(#pb8)" stroke="#000" stroke-width="0.8"/>
<path d="M203.55 152.35V150.98M202.60 150.98H204.50" stroke="#000" stroke-width="1.05" fill="none"/>
<rect x="202.25" y="152.75" width="2.60" height="13.25" fill="url(#pb9)" stroke="#000" stroke-width="0.8"/>
<path d="M210.40 120.50V115.95M209.45 115.95H211.35" stroke="#000" stroke-width="1.05" fill="none"/>
<rect x="209.10" y="120.90" width="2.60" height="45.10" fill="#000" stroke="#000" stroke-width="0.8"/>
<path d="M214.15 128.46V127.10M213.20 127.10H215.10" stroke="#000" stroke-width="1.05" fill="none"/>
<rect x="212.85" y="128.86" width="2.60" height="37.14" fill="#fff" stroke="#000" stroke-width="0.8"/>
<path d="M217.90 130.24V127.96M216.95 127.96H218.85" stroke="#000" stroke-width="1.05" fill="none"/>
<rect x="216.60" y="130.64" width="2.60" height="35.36" fill="url(#pb2)" stroke="#000" stroke-width="0.8"/>
<path d="M221.65 132.33V130.51M220.70 130.51H222.60" stroke="#000" stroke-width="1.05" fill="none"/>
<rect x="220.35" y="132.73" width="2.60" height="33.27" fill="url(#pb3)" stroke="#000" stroke-width="0.8"/>
<path d="M225.40 132.78V130.51M224.45 130.51H226.35" stroke="#000" stroke-width="1.05" fill="none"/>
<rect x="224.10" y="133.19" width="2.60" height="32.82" fill="url(#pb4)" stroke="#000" stroke-width="0.8"/>
<path d="M229.15 130.69V127.51M228.20 127.51H230.10" stroke="#000" stroke-width="1.05" fill="none"/>
<rect x="227.85" y="131.09" width="2.60" height="34.91" fill="url(#pb5)" stroke="#000" stroke-width="0.8"/>
<path d="M232.90 130.24V127.96M231.95 127.96H233.85" stroke="#000" stroke-width="1.05" fill="none"/>
<rect x="231.60" y="130.64" width="2.60" height="35.36" fill="url(#pb6)" stroke="#000" stroke-width="0.8"/>
<path d="M236.65 136.56V134.74M235.70 134.74H237.60" stroke="#000" stroke-width="1.05" fill="none"/>
<rect x="235.35" y="136.96" width="2.60" height="29.04" fill="url(#pb7)" stroke="#000" stroke-width="0.8"/>
<path d="M240.40 139.16V136.88M239.45 136.88H241.35" stroke="#000" stroke-width="1.05" fill="none"/>
<rect x="239.10" y="139.56" width="2.60" height="26.45" fill="url(#pb8)" stroke="#000" stroke-width="0.8"/>
<path d="M244.15 143.25V140.97M243.20 140.97H245.10" stroke="#000" stroke-width="1.05" fill="none"/>
<rect x="242.85" y="143.65" width="2.60" height="22.35" fill="url(#pb9)" stroke="#000" stroke-width="0.8"/>
<path d="M165.90 111.10V166.00H247.90" stroke="#000" stroke-width="0.6" fill="none"/>
<path d="M164.00 166.00H165.90" stroke="#333" stroke-width="0.55"/>
<text transform="translate(163.70 167.72) scale(0.9 1)" font-size="4.3999999999999995" font-weight="bold" text-anchor="end" fill="#000" stroke="#000" stroke-width="0.2" font-family='"Liberation Serif","DejaVu Serif",serif'>0</text>
<path d="M164.00 156.90H165.90" stroke="#333" stroke-width="0.55"/>
<text transform="translate(163.70 158.62) scale(0.9 1)" font-size="4.3999999999999995" font-weight="bold" text-anchor="end" fill="#000" stroke="#000" stroke-width="0.2" font-family='"Liberation Serif","DejaVu Serif",serif'>20</text>
<path d="M164.00 147.80H165.90" stroke="#333" stroke-width="0.55"/>
<text transform="translate(163.70 149.52) scale(0.9 1)" font-size="4.3999999999999995" font-weight="bold" text-anchor="end" fill="#000" stroke="#000" stroke-width="0.2" font-family='"Liberation Serif","DejaVu Serif",serif'>40</text>
<path d="M164.00 138.70H165.90" stroke="#333" stroke-width="0.55"/>
<text transform="translate(163.70 140.42) scale(0.9 1)" font-size="4.3999999999999995" font-weight="bold" text-anchor="end" fill="#000" stroke="#000" stroke-width="0.2" font-family='"Liberation Serif","DejaVu Serif",serif'>60</text>
<path d="M164.00 129.60H165.90" stroke="#333" stroke-width="0.55"/>
<text transform="translate(163.70 131.32) scale(0.9 1)" font-size="4.3999999999999995" font-weight="bold" text-anchor="end" fill="#000" stroke="#000" stroke-width="0.2" font-family='"Liberation Serif","DejaVu Serif",serif'>80</text>
<path d="M164.00 120.50H165.90" stroke="#333" stroke-width="0.55"/>
<text transform="translate(163.70 122.22) scale(0.9 1)" font-size="4.3999999999999995" font-weight="bold" text-anchor="end" fill="#000" stroke="#000" stroke-width="0.2" font-family='"Liberation Serif","DejaVu Serif",serif'>100</text>
<path d="M164.00 111.40H165.90" stroke="#333" stroke-width="0.55"/>
<text transform="translate(163.70 113.12) scale(0.9 1)" font-size="4.3999999999999995" font-weight="bold" text-anchor="end" fill="#000" stroke="#000" stroke-width="0.2" font-family='"Liberation Serif","DejaVu Serif",serif'>120</text>
<path d="M186.67 166.00v1.6" stroke="#000" stroke-width="0.7"/>
<text x="186.67" y="171.80" font-size="4.1" font-weight="bold" text-anchor="middle" fill="#000" font-family='"Liberation Serif","DejaVu Serif",serif' stroke="#000" stroke-width="0.15">2D</text>
<path d="M227.27 166.00v1.6" stroke="#000" stroke-width="0.7"/>
<text x="227.27" y="171.80" font-size="4.1" font-weight="bold" text-anchor="middle" fill="#000" font-family='"Liberation Serif","DejaVu Serif",serif' stroke="#000" stroke-width="0.15">3D</text>
<text x="206.70" y="104.50" font-size="5.2" font-weight="bold" text-anchor="middle" fill="#000" font-family='"Liberation Serif","DejaVu Serif",serif' stroke="#000" stroke-width="0.15">MDA-MB-231</text>
<text transform="translate(155.50 138.70) rotate(-90)" font-size="4.7" font-weight="bold" text-anchor="middle" stroke="#000" stroke-width="0.28" letter-spacing="0.12" font-family='"Liberation Serif","DejaVu Serif",serif'>Cell viability (%)</text>
<rect x="253.35" y="113.40" width="6.10" height="3.60" fill="#000" stroke="#000" stroke-width="0.95"/>
<text x="262.10" y="116.75" font-size="4.7" font-weight="normal" text-anchor="start" fill="#1a1a1a" font-family='"Liberation Serif","DejaVu Serif",serif' stroke="#1a1a1a" stroke-width="0.05">0 µM</text>
<rect x="253.35" y="119.98" width="6.10" height="3.60" fill="#fff" stroke="#000" stroke-width="0.95"/>
<text x="262.10" y="123.33" font-size="4.7" font-weight="normal" text-anchor="start" fill="#1a1a1a" font-family='"Liberation Serif","DejaVu Serif",serif' stroke="#1a1a1a" stroke-width="0.05">0.1 µM</text>
<rect x="253.35" y="126.56" width="6.10" height="3.60" fill="url(#pb2)" stroke="#000" stroke-width="0.95"/>
<text x="262.10" y="129.91" font-size="4.7" font-weight="normal" text-anchor="start" fill="#1a1a1a" font-family='"Liberation Serif","DejaVu Serif",serif' stroke="#1a1a1a" stroke-width="0.05">0.5 µM</text>
<rect x="253.35" y="133.14" width="6.10" height="3.60" fill="url(#pb3)" stroke="#000" stroke-width="0.95"/>
<text x="262.10" y="136.49" font-size="4.7" font-weight="normal" text-anchor="start" fill="#1a1a1a" font-family='"Liberation Serif","DejaVu Serif",serif' stroke="#1a1a1a" stroke-width="0.05">1 µM</text>
<rect x="253.35" y="139.72" width="6.10" height="3.60" fill="url(#pb4)" stroke="#000" stroke-width="0.95"/>
<text x="262.10" y="143.07" font-size="4.7" font-weight="normal" text-anchor="start" fill="#1a1a1a" font-family='"Liberation Serif","DejaVu Serif",serif' stroke="#1a1a1a" stroke-width="0.05">3 µM</text>
<rect x="253.35" y="146.30" width="6.10" height="3.60" fill="url(#pb5)" stroke="#000" stroke-width="0.95"/>
<text x="262.10" y="149.65" font-size="4.7" font-weight="normal" text-anchor="start" fill="#1a1a1a" font-family='"Liberation Serif","DejaVu Serif",serif' stroke="#1a1a1a" stroke-width="0.05">5 µM</text>
<rect x="253.35" y="152.88" width="6.10" height="3.60" fill="url(#pb6)" stroke="#000" stroke-width="0.95"/>
<text x="262.10" y="156.23" font-size="4.7" font-weight="normal" text-anchor="start" fill="#1a1a1a" font-family='"Liberation Serif","DejaVu Serif",serif' stroke="#1a1a1a" stroke-width="0.05">10 µM</text>
<rect x="253.35" y="159.46" width="6.10" height="3.60" fill="url(#pb7)" stroke="#000" stroke-width="0.95"/>
<text x="262.10" y="162.81" font-size="4.7" font-weight="normal" text-anchor="start" fill="#1a1a1a" font-family='"Liberation Serif","DejaVu Serif",serif' stroke="#1a1a1a" stroke-width="0.05">50 µM</text>
<rect x="253.35" y="166.04" width="6.10" height="3.60" fill="url(#pb8)" stroke="#000" stroke-width="0.95"/>
<text x="262.10" y="169.39" font-size="4.7" font-weight="normal" text-anchor="start" fill="#1a1a1a" font-family='"Liberation Serif","DejaVu Serif",serif' stroke="#1a1a1a" stroke-width="0.05">100 µM</text>
<rect x="253.35" y="172.62" width="6.10" height="3.60" fill="url(#pb9)" stroke="#000" stroke-width="0.95"/>
<text x="262.10" y="175.97" font-size="4.7" font-weight="normal" text-anchor="start" fill="#1a1a1a" font-family='"Liberation Serif","DejaVu Serif",serif' stroke="#1a1a1a" stroke-width="0.05">200 µM</text>
<path d="M304.60 120.50V113.22M303.65 113.22H305.55" stroke="#000" stroke-width="1.05" fill="none"/>
<rect x="303.30" y="120.90" width="2.60" height="45.10" fill="#000" stroke="#000" stroke-width="0.8"/>
<path d="M308.35 123.69V121.87M307.40 121.87H309.30" stroke="#000" stroke-width="1.05" fill="none"/>
<rect x="307.05" y="124.09" width="2.60" height="41.92" fill="#fff" stroke="#000" stroke-width="0.8"/>
<path d="M312.10 127.78V125.50M311.15 125.50H313.05" stroke="#000" stroke-width="1.05" fill="none"/>
<rect x="310.80" y="128.18" width="2.60" height="37.82" fill="url(#pb2)" stroke="#000" stroke-width="0.8"/>
<path d="M315.85 131.88V130.06M314.90 130.06H316.80" stroke="#000" stroke-width="1.05" fill="none"/>
<rect x="314.55" y="132.28" width="2.60" height="33.73" fill="url(#pb3)" stroke="#000" stroke-width="0.8"/>
<path d="M319.60 143.93V142.11M318.65 142.11H320.55" stroke="#000" stroke-width="1.05" fill="none"/>
<rect x="318.30" y="144.33" width="2.60" height="21.67" fill="url(#pb4)" stroke="#000" stroke-width="0.8"/>
<path d="M323.35 143.25V141.43M322.40 141.43H324.30" stroke="#000" stroke-width="1.05" fill="none"/>
<rect x="322.05" y="143.65" width="2.60" height="22.35" fill="url(#pb5)" stroke="#000" stroke-width="0.8"/>
<path d="M327.10 141.88V139.61M326.15 139.61H328.05" stroke="#000" stroke-width="1.05" fill="none"/>
<rect x="325.80" y="142.28" width="2.60" height="23.72" fill="url(#pb6)" stroke="#000" stroke-width="0.8"/>
<path d="M330.85 140.79V138.97M329.90 138.97H331.80" stroke="#000" stroke-width="1.05" fill="none"/>
<rect x="329.55" y="141.19" width="2.60" height="24.81" fill="url(#pb7)" stroke="#000" stroke-width="0.8"/>
<path d="M334.60 141.20V139.38M333.65 139.38H335.55" stroke="#000" stroke-width="1.05" fill="none"/>
<rect x="333.30" y="141.60" width="2.60" height="24.40" fill="url(#pb8)" stroke="#000" stroke-width="0.8"/>
<path d="M338.35 147.12V145.30M337.40 145.30H339.30" stroke="#000" stroke-width="1.05" fill="none"/>
<rect x="337.05" y="147.52" width="2.60" height="18.48" fill="url(#pb9)" stroke="#000" stroke-width="0.8"/>
<path d="M345.20 120.50V114.13M344.25 114.13H346.15" stroke="#000" stroke-width="1.05" fill="none"/>
<rect x="343.90" y="120.90" width="2.60" height="45.10" fill="#000" stroke="#000" stroke-width="0.8"/>
<path d="M348.95 120.95V119.59M348.00 119.59H349.90" stroke="#000" stroke-width="1.05" fill="none"/>
<rect x="347.65" y="121.36" width="2.60" height="44.65" fill="#fff" stroke="#000" stroke-width="0.8"/>
<path d="M352.70 125.05V122.77M351.75 122.77H353.65" stroke="#000" stroke-width="1.05" fill="none"/>
<rect x="351.40" y="125.45" width="2.60" height="40.55" fill="url(#pb2)" stroke="#000" stroke-width="0.8"/>
<path d="M356.45 129.14V127.32M355.50 127.32H357.40" stroke="#000" stroke-width="1.05" fill="none"/>
<rect x="355.15" y="129.54" width="2.60" height="36.46" fill="url(#pb3)" stroke="#000" stroke-width="0.8"/>
<path d="M360.20 130.69V126.14M359.25 126.14H361.15" stroke="#000" stroke-width="1.05" fill="none"/>
<rect x="358.90" y="131.09" width="2.60" height="34.91" fill="url(#pb4)" stroke="#000" stroke-width="0.8"/>
<path d="M363.95 134.60V131.88M363.00 131.88H364.90" stroke="#000" stroke-width="1.05" fill="none"/>
<rect x="362.65" y="135.00" width="2.60" height="31.00" fill="url(#pb5)" stroke="#000" stroke-width="0.8"/>
<path d="M367.70 136.56V133.83M366.75 133.83H368.65" stroke="#000" stroke-width="1.05" fill="none"/>
<rect x="366.40" y="136.96" width="2.60" height="29.04" fill="url(#pb6)" stroke="#000" stroke-width="0.8"/>
<path d="M371.45 138.25V136.43M370.50 136.43H372.40" stroke="#000" stroke-width="1.05" fill="none"/>
<rect x="370.15" y="138.65" width="2.60" height="27.36" fill="url(#pb7)" stroke="#000" stroke-width="0.8"/>
<path d="M375.20 139.29V137.47M374.25 137.47H376.15" stroke="#000" stroke-width="1.05" fill="none"/>
<rect x="373.90" y="139.69" width="2.60" height="26.31" fill="url(#pb8)" stroke="#000" stroke-width="0.8"/>
<path d="M378.95 142.48V140.20M378.00 140.20H379.90" stroke="#000" stroke-width="1.05" fill="none"/>
<rect x="377.65" y="142.88" width="2.60" height="23.12" fill="url(#pb9)" stroke="#000" stroke-width="0.8"/>
<path d="M301.30 111.10V166.00H383.30" stroke="#000" stroke-width="0.6" fill="none"/>
<path d="M299.40 166.00H301.30" stroke="#333" stroke-width="0.55"/>
<text transform="translate(299.10 167.72) scale(0.9 1)" font-size="4.3999999999999995" font-weight="bold" text-anchor="end" fill="#000" stroke="#000" stroke-width="0.2" font-family='"Liberation Serif","DejaVu Serif",serif'>0</text>
<path d="M299.40 156.90H301.30" stroke="#333" stroke-width="0.55"/>
<text transform="translate(299.10 158.62) scale(0.9 1)" font-size="4.3999999999999995" font-weight="bold" text-anchor="end" fill="#000" stroke="#000" stroke-width="0.2" font-family='"Liberation Serif","DejaVu Serif",serif'>20</text>
<path d="M299.40 147.80H301.30" stroke="#333" stroke-width="0.55"/>
<text transform="translate(299.10 149.52) scale(0.9 1)" font-size="4.3999999999999995" font-weight="bold" text-anchor="end" fill="#000" stroke="#000" stroke-width="0.2" font-family='"Liberation Serif","DejaVu Serif",serif'>40</text>
<path d="M299.40 138.70H301.30" stroke="#333" stroke-width="0.55"/>
<text transform="translate(299.10 140.42) scale(0.9 1)" font-size="4.3999999999999995" font-weight="bold" text-anchor="end" fill="#000" stroke="#000" stroke-width="0.2" font-family='"Liberation Serif","DejaVu Serif",serif'>60</text>
<path d="M299.40 129.60H301.30" stroke="#333" stroke-width="0.55"/>
<text transform="translate(299.10 131.32) scale(0.9 1)" font-size="4.3999999999999995" font-weight="bold" text-anchor="end" fill="#000" stroke="#000" stroke-width="0.2" font-family='"Liberation Serif","DejaVu Serif",serif'>80</text>
<path d="M299.40 120.50H301.30" stroke="#333" stroke-width="0.55"/>
<text transform="translate(299.10 122.22) scale(0.9 1)" font-size="4.3999999999999995" font-weight="bold" text-anchor="end" fill="#000" stroke="#000" stroke-width="0.2" font-family='"Liberation Serif","DejaVu Serif",serif'>100</text>
<path d="M299.40 111.40H301.30" stroke="#333" stroke-width="0.55"/>
<text transform="translate(299.10 113.12) scale(0.9 1)" font-size="4.3999999999999995" font-weight="bold" text-anchor="end" fill="#000" stroke="#000" stroke-width="0.2" font-family='"Liberation Serif","DejaVu Serif",serif'>120</text>
<path d="M321.47 166.00v1.6" stroke="#000" stroke-width="0.7"/>
<text x="321.47" y="171.80" font-size="4.1" font-weight="bold" text-anchor="middle" fill="#000" font-family='"Liberation Serif","DejaVu Serif",serif' stroke="#000" stroke-width="0.15">2D</text>
<path d="M362.07 166.00v1.6" stroke="#000" stroke-width="0.7"/>
<text x="362.07" y="171.80" font-size="4.1" font-weight="bold" text-anchor="middle" fill="#000" font-family='"Liberation Serif","DejaVu Serif",serif' stroke="#000" stroke-width="0.15">3D</text>
<text x="342.50" y="103.60" font-size="5.2" font-weight="bold" text-anchor="middle" fill="#000" font-family='"Liberation Serif","DejaVu Serif",serif' stroke="#000" stroke-width="0.15">BT20</text>
<text transform="translate(290.90 138.70) rotate(-90)" font-size="4.7" font-weight="bold" text-anchor="middle" stroke="#000" stroke-width="0.28" letter-spacing="0.12" font-family='"Liberation Serif","DejaVu Serif",serif'>Cell viability (%)</text>
<rect x="388.75" y="113.20" width="6.10" height="3.60" fill="#000" stroke="#000" stroke-width="0.95"/>
<text x="397.50" y="116.55" font-size="4.7" font-weight="normal" text-anchor="start" fill="#1a1a1a" font-family='"Liberation Serif","DejaVu Serif",serif' stroke="#1a1a1a" stroke-width="0.05">0 µM</text>
<rect x="388.75" y="119.78" width="6.10" height="3.60" fill="#fff" stroke="#000" stroke-width="0.95"/>
<text x="397.50" y="123.13" font-size="4.7" font-weight="normal" text-anchor="start" fill="#1a1a1a" font-family='"Liberation Serif","DejaVu Serif",serif' stroke="#1a1a1a" stroke-width="0.05">0.1 µM</text>
<rect x="388.75" y="126.36" width="6.10" height="3.60" fill="url(#pb2)" stroke="#000" stroke-width="0.95"/>
<text x="397.50" y="129.71" font-size="4.7" font-weight="normal" text-anchor="start" fill="#1a1a1a" font-family='"Liberation Serif","DejaVu Serif",serif' stroke="#1a1a1a" stroke-width="0.05">0.5 µM</text>
<rect x="388.75" y="132.94" width="6.10" height="3.60" fill="url(#pb3)" stroke="#000" stroke-width="0.95"/>
<text x="397.50" y="136.29" font-size="4.7" font-weight="normal" text-anchor="start" fill="#1a1a1a" font-family='"Liberation Serif","DejaVu Serif",serif' stroke="#1a1a1a" stroke-width="0.05">1 µM</text>
<rect x="388.75" y="139.52" width="6.10" height="3.60" fill="url(#pb4)" stroke="#000" stroke-width="0.95"/>
<text x="397.50" y="142.87" font-size="4.7" font-weight="normal" text-anchor="start" fill="#1a1a1a" font-family='"Liberation Serif","DejaVu Serif",serif' stroke="#1a1a1a" stroke-width="0.05">3 µM</text>
<rect x="388.75" y="146.10" width="6.10" height="3.60" fill="url(#pb5)" stroke="#000" stroke-width="0.95"/>
<text x="397.50" y="149.45" font-size="4.7" font-weight="normal" text-anchor="start" fill="#1a1a1a" font-family='"Liberation Serif","DejaVu Serif",serif' stroke="#1a1a1a" stroke-width="0.05">5 µM</text>
<rect x="388.75" y="152.68" width="6.10" height="3.60" fill="url(#pb6)" stroke="#000" stroke-width="0.95"/>
<text x="397.50" y="156.03" font-size="4.7" font-weight="normal" text-anchor="start" fill="#1a1a1a" font-family='"Liberation Serif","DejaVu Serif",serif' stroke="#1a1a1a" stroke-width="0.05">10 µM</text>
<rect x="388.75" y="159.26" width="6.10" height="3.60" fill="url(#pb7)" stroke="#000" stroke-width="0.95"/>
<text x="397.50" y="162.61" font-size="4.7" font-weight="normal" text-anchor="start" fill="#1a1a1a" font-family='"Liberation Serif","DejaVu Serif",serif' stroke="#1a1a1a" stroke-width="0.05">50 µM</text>
<rect x="388.75" y="165.84" width="6.10" height="3.60" fill="url(#pb8)" stroke="#000" stroke-width="0.95"/>
<text x="397.50" y="169.19" font-size="4.7" font-weight="normal" text-anchor="start" fill="#1a1a1a" font-family='"Liberation Serif","DejaVu Serif",serif' stroke="#1a1a1a" stroke-width="0.05">100 µM</text>
<rect x="388.75" y="172.42" width="6.10" height="3.60" fill="url(#pb9)" stroke="#000" stroke-width="0.95"/>
<text x="397.50" y="175.77" font-size="4.7" font-weight="normal" text-anchor="start" fill="#1a1a1a" font-family='"Liberation Serif","DejaVu Serif",serif' stroke="#1a1a1a" stroke-width="0.05">200 µM</text>
<path d="M439.20 118.87V116.62M438.25 116.62H440.15" stroke="#000" stroke-width="1.05" fill="none"/>
<rect x="437.90" y="119.27" width="2.60" height="45.43" fill="#000" stroke="#000" stroke-width="0.8"/>
<path d="M442.95 122.48V120.23M442.00 120.23H443.90" stroke="#000" stroke-width="1.05" fill="none"/>
<rect x="441.65" y="122.88" width="2.60" height="41.82" fill="#fff" stroke="#000" stroke-width="0.8"/>
<path d="M446.70 123.84V121.13M445.75 121.13H447.65" stroke="#000" stroke-width="1.05" fill="none"/>
<rect x="445.40" y="124.24" width="2.60" height="40.46" fill="url(#pb2)" stroke="#000" stroke-width="0.8"/>
<path d="M450.45 125.65V122.94M449.50 122.94H451.40" stroke="#000" stroke-width="1.05" fill="none"/>
<rect x="449.15" y="126.05" width="2.60" height="38.65" fill="url(#pb3)" stroke="#000" stroke-width="0.8"/>
<path d="M454.20 132.87V130.16M453.25 130.16H455.15" stroke="#000" stroke-width="1.05" fill="none"/>
<rect x="452.90" y="133.27" width="2.60" height="31.43" fill="url(#pb4)" stroke="#000" stroke-width="0.8"/>
<path d="M457.95 133.77V131.06M457.00 131.06H458.90" stroke="#000" stroke-width="1.05" fill="none"/>
<rect x="456.65" y="134.17" width="2.60" height="30.53" fill="url(#pb5)" stroke="#000" stroke-width="0.8"/>
<path d="M461.70 141.22V139.42M460.75 139.42H462.65" stroke="#000" stroke-width="1.05" fill="none"/>
<rect x="460.40" y="141.62" width="2.60" height="23.08" fill="url(#pb6)" stroke="#000" stroke-width="0.8"/>
<path d="M465.45 142.35V141.00M464.50 141.00H466.40" stroke="#000" stroke-width="1.05" fill="none"/>
<rect x="464.15" y="142.75" width="2.60" height="21.95" fill="url(#pb7)" stroke="#000" stroke-width="0.8"/>
<path d="M469.20 148.67V147.32M468.25 147.32H470.15" stroke="#000" stroke-width="1.05" fill="none"/>
<rect x="467.90" y="149.07" width="2.60" height="15.63" fill="url(#pb8)" stroke="#000" stroke-width="0.8"/>
<path d="M472.95 149.80V148.45M472.00 148.45H473.90" stroke="#000" stroke-width="1.05" fill="none"/>
<rect x="471.65" y="150.20" width="2.60" height="14.50" fill="url(#pb9)" stroke="#000" stroke-width="0.8"/>
<path d="M479.80 118.87V112.10M478.85 112.10H480.75" stroke="#000" stroke-width="1.05" fill="none"/>
<rect x="478.50" y="119.27" width="2.60" height="45.43" fill="#000" stroke="#000" stroke-width="0.8"/>
<path d="M483.55 121.18V118.01M482.60 118.01H484.50" stroke="#000" stroke-width="1.05" fill="none"/>
<rect x="482.25" y="121.58" width="2.60" height="43.12" fill="#fff" stroke="#000" stroke-width="0.8"/>
<path d="M487.30 122.03V119.32M486.35 119.32H488.25" stroke="#000" stroke-width="1.05" fill="none"/>
<rect x="486.00" y="122.43" width="2.60" height="42.27" fill="url(#pb2)" stroke="#000" stroke-width="0.8"/>
<path d="M491.05 125.87V122.71M490.10 122.71H492.00" stroke="#000" stroke-width="1.05" fill="none"/>
<rect x="489.75" y="126.27" width="2.60" height="38.43" fill="url(#pb3)" stroke="#000" stroke-width="0.8"/>
<path d="M494.80 129.03V125.87M493.85 125.87H495.75" stroke="#000" stroke-width="1.05" fill="none"/>
<rect x="493.50" y="129.43" width="2.60" height="35.27" fill="url(#pb4)" stroke="#000" stroke-width="0.8"/>
<path d="M498.55 131.06V128.35M497.60 128.35H499.50" stroke="#000" stroke-width="1.05" fill="none"/>
<rect x="497.25" y="131.46" width="2.60" height="33.24" fill="url(#pb5)" stroke="#000" stroke-width="0.8"/>
<path d="M502.30 133.09V130.84M501.35 130.84H503.25" stroke="#000" stroke-width="1.05" fill="none"/>
<rect x="501.00" y="133.50" width="2.60" height="31.21" fill="url(#pb6)" stroke="#000" stroke-width="0.8"/>
<path d="M506.05 135.13V132.42M505.10 132.42H507.00" stroke="#000" stroke-width="1.05" fill="none"/>
<rect x="504.75" y="135.53" width="2.60" height="29.17" fill="url(#pb7)" stroke="#000" stroke-width="0.8"/>
<path d="M509.80 137.16V134.90M508.85 134.90H510.75" stroke="#000" stroke-width="1.05" fill="none"/>
<rect x="508.50" y="137.56" width="2.60" height="27.14" fill="url(#pb8)" stroke="#000" stroke-width="0.8"/>
<path d="M513.55 138.51V136.71M512.60 136.71H514.50" stroke="#000" stroke-width="1.05" fill="none"/>
<rect x="512.25" y="138.91" width="2.60" height="25.79" fill="url(#pb9)" stroke="#000" stroke-width="0.8"/>
<path d="M435.30 110.22V164.70H517.30" stroke="#000" stroke-width="0.6" fill="none"/>
<path d="M433.40 164.70H435.30" stroke="#333" stroke-width="0.55"/>
<text transform="translate(433.10 166.42) scale(0.9 1)" font-size="4.3999999999999995" font-weight="bold" text-anchor="end" fill="#000" stroke="#000" stroke-width="0.2" font-family='"Liberation Serif","DejaVu Serif",serif'>0</text>
<path d="M433.40 155.67H435.30" stroke="#333" stroke-width="0.55"/>
<text transform="translate(433.10 157.39) scale(0.9 1)" font-size="4.3999999999999995" font-weight="bold" text-anchor="end" fill="#000" stroke="#000" stroke-width="0.2" font-family='"Liberation Serif","DejaVu Serif",serif'>20</text>
<path d="M433.40 146.64H435.30" stroke="#333" stroke-width="0.55"/>
<text transform="translate(433.10 148.36) scale(0.9 1)" font-size="4.3999999999999995" font-weight="bold" text-anchor="end" fill="#000" stroke="#000" stroke-width="0.2" font-family='"Liberation Serif","DejaVu Serif",serif'>40</text>
<path d="M433.40 137.61H435.30" stroke="#333" stroke-width="0.55"/>
<text transform="translate(433.10 139.33) scale(0.9 1)" font-size="4.3999999999999995" font-weight="bold" text-anchor="end" fill="#000" stroke="#000" stroke-width="0.2" font-family='"Liberation Serif","DejaVu Serif",serif'>60</text>
<path d="M433.40 128.58H435.30" stroke="#333" stroke-width="0.55"/>
<text transform="translate(433.10 130.30) scale(0.9 1)" font-size="4.3999999999999995" font-weight="bold" text-anchor="end" fill="#000" stroke="#000" stroke-width="0.2" font-family='"Liberation Serif","DejaVu Serif",serif'>80</text>
<path d="M433.40 119.55H435.30" stroke="#333" stroke-width="0.55"/>
<text transform="translate(433.10 121.27) scale(0.9 1)" font-size="4.3999999999999995" font-weight="bold" text-anchor="end" fill="#000" stroke="#000" stroke-width="0.2" font-family='"Liberation Serif","DejaVu Serif",serif'>100</text>
<path d="M433.40 110.52H435.30" stroke="#333" stroke-width="0.55"/>
<text transform="translate(433.10 112.24) scale(0.9 1)" font-size="4.3999999999999995" font-weight="bold" text-anchor="end" fill="#000" stroke="#000" stroke-width="0.2" font-family='"Liberation Serif","DejaVu Serif",serif'>120</text>
<path d="M456.07 164.70v1.6" stroke="#000" stroke-width="0.7"/>
<text x="456.07" y="170.50" font-size="4.1" font-weight="bold" text-anchor="middle" fill="#000" font-family='"Liberation Serif","DejaVu Serif",serif' stroke="#000" stroke-width="0.15">2D</text>
<path d="M496.68 164.70v1.6" stroke="#000" stroke-width="0.7"/>
<text x="496.68" y="170.50" font-size="4.1" font-weight="bold" text-anchor="middle" fill="#000" font-family='"Liberation Serif","DejaVu Serif",serif' stroke="#000" stroke-width="0.15">3D</text>
<text x="476.80" y="103.60" font-size="5.2" font-weight="bold" text-anchor="middle" fill="#000" font-family='"Liberation Serif","DejaVu Serif",serif' stroke="#000" stroke-width="0.15">SKBr3</text>
<text transform="translate(424.60 137.61) rotate(-90)" font-size="4.7" font-weight="bold" text-anchor="middle" stroke="#000" stroke-width="0.28" letter-spacing="0.12" font-family='"Liberation Serif","DejaVu Serif",serif'>Cell viability (%)</text>
<rect x="523.35" y="112.10" width="6.10" height="3.60" fill="#000" stroke="#000" stroke-width="0.95"/>
<text x="532.10" y="115.45" font-size="4.7" font-weight="normal" text-anchor="start" fill="#1a1a1a" font-family='"Liberation Serif","DejaVu Serif",serif' stroke="#1a1a1a" stroke-width="0.05">0 µM</text>
<rect x="523.35" y="118.68" width="6.10" height="3.60" fill="#fff" stroke="#000" stroke-width="0.95"/>
<text x="532.10" y="122.03" font-size="4.7" font-weight="normal" text-anchor="start" fill="#1a1a1a" font-family='"Liberation Serif","DejaVu Serif",serif' stroke="#1a1a1a" stroke-width="0.05">0.1 µM</text>
<rect x="523.35" y="125.26" width="6.10" height="3.60" fill="url(#pb2)" stroke="#000" stroke-width="0.95"/>
<text x="532.10" y="128.61" font-size="4.7" font-weight="normal" text-anchor="start" fill="#1a1a1a" font-family='"Liberation Serif","DejaVu Serif",serif' stroke="#1a1a1a" stroke-width="0.05">0.5 µM</text>
<rect x="523.35" y="131.84" width="6.10" height="3.60" fill="url(#pb3)" stroke="#000" stroke-width="0.95"/>
<text x="532.10" y="135.19" font-size="4.7" font-weight="normal" text-anchor="start" fill="#1a1a1a" font-family='"Liberation Serif","DejaVu Serif",serif' stroke="#1a1a1a" stroke-width="0.05">1 µM</text>
<rect x="523.35" y="138.42" width="6.10" height="3.60" fill="url(#pb4)" stroke="#000" stroke-width="0.95"/>
<text x="532.10" y="141.77" font-size="4.7" font-weight="normal" text-anchor="start" fill="#1a1a1a" font-family='"Liberation Serif","DejaVu Serif",serif' stroke="#1a1a1a" stroke-width="0.05">3 µM</text>
<rect x="523.35" y="145.00" width="6.10" height="3.60" fill="url(#pb5)" stroke="#000" stroke-width="0.95"/>
<text x="532.10" y="148.35" font-size="4.7" font-weight="normal" text-anchor="start" fill="#1a1a1a" font-family='"Liberation Serif","DejaVu Serif",serif' stroke="#1a1a1a" stroke-width="0.05">5 µM</text>
<rect x="523.35" y="151.58" width="6.10" height="3.60" fill="url(#pb6)" stroke="#000" stroke-width="0.95"/>
<text x="532.10" y="154.93" font-size="4.7" font-weight="normal" text-anchor="start" fill="#1a1a1a" font-family='"Liberation Serif","DejaVu Serif",serif' stroke="#1a1a1a" stroke-width="0.05">10 µM</text>
<rect x="523.35" y="158.16" width="6.10" height="3.60" fill="url(#pb7)" stroke="#000" stroke-width="0.95"/>
<text x="532.10" y="161.51" font-size="4.7" font-weight="normal" text-anchor="start" fill="#1a1a1a" font-family='"Liberation Serif","DejaVu Serif",serif' stroke="#1a1a1a" stroke-width="0.05">50 µM</text>
<rect x="523.35" y="164.74" width="6.10" height="3.60" fill="url(#pb8)" stroke="#000" stroke-width="0.95"/>
<text x="532.10" y="168.09" font-size="4.7" font-weight="normal" text-anchor="start" fill="#1a1a1a" font-family='"Liberation Serif","DejaVu Serif",serif' stroke="#1a1a1a" stroke-width="0.05">100 µM</text>
<rect x="523.35" y="171.32" width="6.10" height="3.60" fill="url(#pb9)" stroke="#000" stroke-width="0.95"/>
<text x="532.10" y="174.67" font-size="4.7" font-weight="normal" text-anchor="start" fill="#1a1a1a" font-family='"Liberation Serif","DejaVu Serif",serif' stroke="#1a1a1a" stroke-width="0.05">200 µM</text>
<text x="3.00" y="8.00" font-size="7.9" font-weight="bold" text-anchor="start" fill="#000" font-family='"Liberation Serif","DejaVu Serif",serif' stroke="#000" stroke-width="0.2">A</text>
<text x="2.90" y="99.10" font-size="8.6" font-weight="bold" text-anchor="start" fill="#000" font-family='"Liberation Serif","DejaVu Serif",serif' stroke="#000" stroke-width="0.2">B</text>
<text x="3.00" y="201.60" font-size="8.5" font-weight="bold" text-anchor="start" fill="#000" font-family='"Liberation Serif","DejaVu Serif",serif' stroke="#000" stroke-width="0.2">C</text>
<text x="296.80" y="199.70" font-size="8.6" font-weight="bold" text-anchor="start" fill="#000" font-family='"Liberation Serif","DejaVu Serif",serif' stroke="#000" stroke-width="0.2">D</text>
<path d="M80.50 213.64V222.05M78.40 213.64h4.2M78.40 222.05h4.2" stroke="#000" stroke-width="1.05" fill="none"/>
<path d="M99.90 218.56V228.26M97.80 218.56h4.2M97.80 228.26h4.2" stroke="#000" stroke-width="1.05" fill="none"/>
<path d="M119.30 230.32V235.50M117.20 230.32h4.2M117.20 235.50h4.2" stroke="#000" stroke-width="1.05" fill="none"/>
<path d="M138.70 243.08V245.66M136.60 243.08h4.2M136.60 245.66h4.2" stroke="#000" stroke-width="1.05" fill="none"/>
<path d="M158.10 267.63V268.92M156.00 267.63h4.2M156.00 268.92h4.2" stroke="#000" stroke-width="1.05" fill="none"/>
<polyline points="61.10,222.76 80.50,217.84 99.90,223.41 119.30,232.91 138.70,244.37 158.10,268.28" fill="none" stroke="#000" stroke-width="1.12"/>
<circle cx="61.10" cy="222.76" r="1.5" fill="#000"/>
<circle cx="80.50" cy="217.84" r="1.5" fill="#000"/>
<circle cx="99.90" cy="223.41" r="1.5" fill="#000"/>
<circle cx="119.30" cy="232.91" r="1.5" fill="#000"/>
<circle cx="138.70" cy="244.37" r="1.5" fill="#000"/>
<circle cx="158.10" cy="268.28" r="1.5" fill="#000"/>
<path d="M80.50 233.59V237.47M78.40 233.59h4.2M78.40 237.47h4.2" stroke="#c9c9c9" stroke-width="1.05" fill="none"/>
<path d="M99.90 245.08V254.14M97.80 245.08h4.2M97.80 254.14h4.2" stroke="#c9c9c9" stroke-width="1.05" fill="none"/>
<path d="M119.30 242.77V249.24M117.20 242.77h4.2M117.20 249.24h4.2" stroke="#c9c9c9" stroke-width="1.05" fill="none"/>
<path d="M138.70 252.25V254.83M136.60 252.25h4.2M136.60 254.83h4.2" stroke="#c9c9c9" stroke-width="1.05" fill="none"/>
<path d="M158.10 270.91V273.50M156.00 270.91h4.2M156.00 273.50h4.2" stroke="#c9c9c9" stroke-width="1.05" fill="none"/>
<polyline points="61.10,222.76 80.50,235.53 99.90,249.61 119.30,246.01 138.70,253.54 158.10,272.21" fill="none" stroke="#c9c9c9" stroke-width="1.12"/>
<rect x="59.70" y="221.36" width="2.8" height="2.8" fill="#c9c9c9"/>
<rect x="79.10" y="234.13" width="2.8" height="2.8" fill="#c9c9c9"/>
<rect x="98.50" y="248.21" width="2.8" height="2.8" fill="#c9c9c9"/>
<rect x="117.90" y="244.61" width="2.8" height="2.8" fill="#c9c9c9"/>
<rect x="137.30" y="252.14" width="2.8" height="2.8" fill="#c9c9c9"/>
<rect x="156.70" y="270.81" width="2.8" height="2.8" fill="#c9c9c9"/>
<path d="M80.50 218.87V225.34M78.40 218.87h4.2M78.40 225.34h4.2" stroke="#000" stroke-width="1.05" fill="none"/>
<path d="M99.90 223.14V232.85M97.80 223.14h4.2M97.80 232.85h4.2" stroke="#000" stroke-width="1.05" fill="none"/>
<path d="M119.30 231.64V238.11M117.20 231.64h4.2M117.20 238.11h4.2" stroke="#000" stroke-width="1.05" fill="none"/>
<path d="M138.70 242.42V245.01M136.60 242.42h4.2M136.60 245.01h4.2" stroke="#000" stroke-width="1.05" fill="none"/>
<path d="M158.10 243.75V249.57M156.00 243.75h4.2M156.00 249.57h4.2" stroke="#000" stroke-width="1.05" fill="none"/>
<polyline points="61.10,222.76 80.50,222.10 99.90,228.00 119.30,234.87 138.70,243.72 158.10,246.66" fill="none" stroke="#000" stroke-width="1.12"/>
<path d="M61.10 220.86L62.90 224.06H59.30Z" fill="#000"/>
<path d="M80.50 220.20L82.30 223.40H78.70Z" fill="#000"/>
<path d="M99.90 226.09L101.70 229.30H98.10Z" fill="#000"/>
<path d="M119.30 232.97L121.10 236.17H117.50Z" fill="#000"/>
<path d="M138.70 241.82L140.50 245.02H136.90Z" fill="#000"/>
<path d="M158.10 244.76L159.90 247.96H156.30Z" fill="#000"/>
<path d="M80.50 224.76V231.23M78.40 224.76h4.2M78.40 231.23h4.2" stroke="#dcdcdc" stroke-width="1.05" fill="none"/>
<path d="M99.90 239.82V244.99M97.80 239.82h4.2M97.80 244.99h4.2" stroke="#dcdcdc" stroke-width="1.05" fill="none"/>
<path d="M119.30 239.82V244.99M117.20 239.82h4.2M117.20 244.99h4.2" stroke="#dcdcdc" stroke-width="1.05" fill="none"/>
<path d="M138.70 242.43V246.31M136.60 242.43h4.2M136.60 246.31h4.2" stroke="#dcdcdc" stroke-width="1.05" fill="none"/>
<path d="M158.10 268.29V270.88M156.00 268.29h4.2M156.00 270.88h4.2" stroke="#dcdcdc" stroke-width="1.05" fill="none"/>
<polyline points="61.10,222.76 80.50,228.00 99.90,242.41 119.30,242.41 138.70,244.37 158.10,269.59" fill="none" stroke="#dcdcdc" stroke-width="1.12"/>
<path d="M61.10 224.66L62.90 221.46H59.30Z" fill="#dcdcdc"/>
<path d="M80.50 229.90L82.30 226.69H78.70Z" fill="#dcdcdc"/>
<path d="M99.90 244.31L101.70 241.11H98.10Z" fill="#dcdcdc"/>
<path d="M119.30 244.31L121.10 241.11H117.50Z" fill="#dcdcdc"/>
<path d="M138.70 246.27L140.50 243.07H136.90Z" fill="#dcdcdc"/>
<path d="M158.10 271.49L159.90 268.29H156.30Z" fill="#dcdcdc"/>
<path d="M51.20 209.36V287.40H168.00" stroke="#000" stroke-width="0.95" fill="none"/>
<path d="M48.60 287.40H51.20" stroke="#000" stroke-width="0.9"/>
<text x="48.00" y="289.29" font-size="5.4" font-weight="bold" text-anchor="end" fill="#000" font-family='"Liberation Sans","DejaVu Sans",sans-serif' >0</text>
<path d="M48.60 274.46H51.20" stroke="#000" stroke-width="0.9"/>
<text x="48.00" y="276.35" font-size="5.4" font-weight="bold" text-anchor="end" fill="#000" font-family='"Liberation Sans","DejaVu Sans",sans-serif' >20</text>
<path d="M48.60 261.52H51.20" stroke="#000" stroke-width="0.9"/>
<text x="48.00" y="263.41" font-size="5.4" font-weight="bold" text-anchor="end" fill="#000" font-family='"Liberation Sans","DejaVu Sans",sans-serif' >40</text>
<path d="M48.60 248.58H51.20" stroke="#000" stroke-width="0.9"/>
<text x="48.00" y="250.47" font-size="5.4" font-weight="bold" text-anchor="end" fill="#000" font-family='"Liberation Sans","DejaVu Sans",sans-serif' >60</text>
<path d="M48.60 235.64H51.20" stroke="#000" stroke-width="0.9"/>
<text x="48.00" y="237.53" font-size="5.4" font-weight="bold" text-anchor="end" fill="#000" font-family='"Liberation Sans","DejaVu Sans",sans-serif' >80</text>
<path d="M48.60 222.70H51.20" stroke="#000" stroke-width="0.9"/>
<text x="48.00" y="224.59" font-size="5.4" font-weight="bold" text-anchor="end" fill="#000" font-family='"Liberation Sans","DejaVu Sans",sans-serif' >100</text>
<path d="M48.60 209.76H51.20" stroke="#000" stroke-width="0.9"/>
<text x="48.00" y="211.65" font-size="5.4" font-weight="bold" text-anchor="end" fill="#000" font-family='"Liberation Sans","DejaVu Sans",sans-serif' >120</text>
<path d="M61.10 287.40v2.4" stroke="#000" stroke-width="0.9"/>
<text x="61.10" y="296.20" font-size="6.0" font-weight="bold" text-anchor="middle" fill="#000" font-family='"Liberation Serif","DejaVu Serif",serif' >0</text>
<path d="M80.50 287.40v2.4" stroke="#000" stroke-width="0.9"/>
<text x="80.50" y="296.20" font-size="6.0" font-weight="bold" text-anchor="middle" fill="#000" font-family='"Liberation Serif","DejaVu Serif",serif' >10</text>
<path d="M99.90 287.40v2.4" stroke="#000" stroke-width="0.9"/>
<text x="99.90" y="296.20" font-size="6.0" font-weight="bold" text-anchor="middle" fill="#000" font-family='"Liberation Serif","DejaVu Serif",serif' >50</text>
<path d="M119.30 287.40v2.4" stroke="#000" stroke-width="0.9"/>
<text x="119.30" y="296.20" font-size="6.0" font-weight="bold" text-anchor="middle" fill="#000" font-family='"Liberation Serif","DejaVu Serif",serif' >100</text>
<path d="M138.70 287.40v2.4" stroke="#000" stroke-width="0.9"/>
<text x="138.70" y="296.20" font-size="6.0" font-weight="bold" text-anchor="middle" fill="#000" font-family='"Liberation Serif","DejaVu Serif",serif' >500</text>
<path d="M158.10 287.40v2.4" stroke="#000" stroke-width="0.9"/>
<text x="158.10" y="296.20" font-size="6.0" font-weight="bold" text-anchor="middle" fill="#000" font-family='"Liberation Serif","DejaVu Serif",serif' >1000</text>
<text x="109.50" y="304.40" font-size="6.1" font-weight="bold" text-anchor="middle" fill="#000" font-family='"Liberation Serif","DejaVu Serif",serif' letter-spacing="0.3">Paclitaxel (nM)</text>
<text transform="translate(34.30 248.58) rotate(-90)" font-size="6.2" font-weight="bold" text-anchor="middle" letter-spacing="0.3" font-family='"Liberation Serif","DejaVu Serif",serif'>Cell viability (%)</text>
<path d="M346.50 241.62V242.91M344.40 241.62h4.2M344.40 242.91h4.2" stroke="#000" stroke-width="1.05" fill="none"/>
<path d="M361.00 251.47V255.35M358.90 251.47h4.2M358.90 255.35h4.2" stroke="#000" stroke-width="1.05" fill="none"/>
<path d="M375.50 259.72V261.01M373.40 259.72h4.2M373.40 261.01h4.2" stroke="#000" stroke-width="1.05" fill="none"/>
<path d="M390.00 259.39V261.33M387.90 259.39h4.2M387.90 261.33h4.2" stroke="#000" stroke-width="1.05" fill="none"/>
<path d="M404.50 262.94V264.23M402.40 262.94h4.2M402.40 264.23h4.2" stroke="#000" stroke-width="1.05" fill="none"/>
<path d="M419.00 272.92V274.21M416.90 272.92h4.2M416.90 274.21h4.2" stroke="#000" stroke-width="1.05" fill="none"/>
<path d="M433.50 282.58V283.87M431.40 282.58h4.2M431.40 283.87h4.2" stroke="#000" stroke-width="1.05" fill="none"/>
<polyline points="332.00,221.40 346.50,242.27 361.00,253.41 375.50,260.36 390.00,260.36 404.50,263.58 419.00,273.56 433.50,283.22" fill="none" stroke="#000" stroke-width="1.12"/>
<circle cx="332.00" cy="221.40" r="1.5" fill="#000"/>
<circle cx="346.50" cy="242.27" r="1.5" fill="#000"/>
<circle cx="361.00" cy="253.41" r="1.5" fill="#000"/>
<circle cx="375.50" cy="260.36" r="1.5" fill="#000"/>
<circle cx="390.00" cy="260.36" r="1.5" fill="#000"/>
<circle cx="404.50" cy="263.58" r="1.5" fill="#000"/>
<circle cx="419.00" cy="273.56" r="1.5" fill="#000"/>
<circle cx="433.50" cy="283.22" r="1.5" fill="#000"/>
<path d="M346.50 244.12V248.01M344.40 244.12h4.2M344.40 248.01h4.2" stroke="#c9c9c9" stroke-width="1.05" fill="none"/>
<path d="M361.00 255.53V258.11M358.90 255.53h4.2M358.90 258.11h4.2" stroke="#c9c9c9" stroke-width="1.05" fill="none"/>
<path d="M375.50 259.07V261.66M373.40 259.07h4.2M373.40 261.66h4.2" stroke="#c9c9c9" stroke-width="1.05" fill="none"/>
<path d="M390.00 258.74V263.92M387.90 258.74h4.2M387.90 263.92h4.2" stroke="#c9c9c9" stroke-width="1.05" fill="none"/>
<path d="M404.50 262.94V264.23M402.40 262.94h4.2M402.40 264.23h4.2" stroke="#c9c9c9" stroke-width="1.05" fill="none"/>
<path d="M419.00 270.34V272.93M416.90 270.34h4.2M416.90 272.93h4.2" stroke="#c9c9c9" stroke-width="1.05" fill="none"/>
<path d="M433.50 280.00V283.88M431.40 280.00h4.2M431.40 283.88h4.2" stroke="#c9c9c9" stroke-width="1.05" fill="none"/>
<polyline points="332.00,221.40 346.50,246.07 361.00,256.82 375.50,260.36 390.00,261.33 404.50,263.58 419.00,271.63 433.50,281.94" fill="none" stroke="#c9c9c9" stroke-width="1.12"/>
<rect x="330.60" y="220.00" width="2.8" height="2.8" fill="#c9c9c9"/>
<rect x="345.10" y="244.67" width="2.8" height="2.8" fill="#c9c9c9"/>
<rect x="359.60" y="255.42" width="2.8" height="2.8" fill="#c9c9c9"/>
<rect x="374.10" y="258.96" width="2.8" height="2.8" fill="#c9c9c9"/>
<rect x="388.60" y="259.93" width="2.8" height="2.8" fill="#c9c9c9"/>
<rect x="403.10" y="262.18" width="2.8" height="2.8" fill="#c9c9c9"/>
<rect x="417.60" y="270.23" width="2.8" height="2.8" fill="#c9c9c9"/>
<rect x="432.10" y="280.54" width="2.8" height="2.8" fill="#c9c9c9"/>
<path d="M346.50 234.27V236.86M344.40 234.27h4.2M344.40 236.86h4.2" stroke="#000" stroke-width="1.05" fill="none"/>
<path d="M361.00 230.72V236.55M358.90 230.72h4.2M358.90 236.55h4.2" stroke="#000" stroke-width="1.05" fill="none"/>
<path d="M375.50 234.78V239.31M373.40 234.78h4.2M373.40 239.31h4.2" stroke="#000" stroke-width="1.05" fill="none"/>
<path d="M390.00 234.28V235.57M387.90 234.28h4.2M387.90 235.57h4.2" stroke="#000" stroke-width="1.05" fill="none"/>
<path d="M404.50 242.65V243.94M402.40 242.65h4.2M402.40 243.94h4.2" stroke="#000" stroke-width="1.05" fill="none"/>
<path d="M419.00 259.07V261.66M416.90 259.07h4.2M416.90 261.66h4.2" stroke="#000" stroke-width="1.05" fill="none"/>
<path d="M433.50 282.58V283.87M431.40 282.58h4.2M431.40 283.87h4.2" stroke="#000" stroke-width="1.05" fill="none"/>
<polyline points="332.00,221.40 346.50,235.57 361.00,233.64 375.50,237.05 390.00,234.92 404.50,243.30 419.00,260.36 433.50,283.22" fill="none" stroke="#000" stroke-width="1.12"/>
<path d="M332.00 219.50L333.80 222.70H330.20Z" fill="#000"/>
<path d="M346.50 233.67L348.30 236.87H344.70Z" fill="#000"/>
<path d="M361.00 231.74L362.80 234.94H359.20Z" fill="#000"/>
<path d="M375.50 235.15L377.30 238.35H373.70Z" fill="#000"/>
<path d="M390.00 233.02L391.80 236.22H388.20Z" fill="#000"/>
<path d="M404.50 241.40L406.30 244.60H402.70Z" fill="#000"/>
<path d="M419.00 258.46L420.80 261.66H417.20Z" fill="#000"/>
<path d="M433.50 281.32L435.30 284.52H431.70Z" fill="#000"/>
<path d="M346.50 232.59V240.35M344.40 232.59h4.2M344.40 240.35h4.2" stroke="#dcdcdc" stroke-width="1.05" fill="none"/>
<path d="M361.00 234.26V244.61M358.90 234.26h4.2M358.90 244.61h4.2" stroke="#dcdcdc" stroke-width="1.05" fill="none"/>
<path d="M375.50 240.35V259.12M373.40 240.35h4.2M373.40 259.12h4.2" stroke="#dcdcdc" stroke-width="1.05" fill="none"/>
<path d="M390.00 249.27V255.74M387.90 249.27h4.2M387.90 255.74h4.2" stroke="#dcdcdc" stroke-width="1.05" fill="none"/>
<path d="M404.50 251.47V255.35M402.40 251.47h4.2M402.40 255.35h4.2" stroke="#dcdcdc" stroke-width="1.05" fill="none"/>
<path d="M419.00 262.29V266.17M416.90 262.29h4.2M416.90 266.17h4.2" stroke="#dcdcdc" stroke-width="1.05" fill="none"/>
<path d="M433.50 280.00V283.88M431.40 280.00h4.2M431.40 283.88h4.2" stroke="#dcdcdc" stroke-width="1.05" fill="none"/>
<polyline points="332.00,221.40 346.50,236.47 361.00,239.43 375.50,249.74 390.00,252.51 404.50,253.41 419.00,264.23 433.50,281.94" fill="none" stroke="#dcdcdc" stroke-width="1.12"/>
<path d="M332.00 223.30L333.80 220.10H330.20Z" fill="#dcdcdc"/>
<path d="M346.50 238.37L348.30 235.17H344.70Z" fill="#dcdcdc"/>
<path d="M361.00 241.33L362.80 238.13H359.20Z" fill="#dcdcdc"/>
<path d="M375.50 251.64L377.30 248.44H373.70Z" fill="#dcdcdc"/>
<path d="M390.00 254.41L391.80 251.21H388.20Z" fill="#dcdcdc"/>
<path d="M404.50 255.31L406.30 252.11H402.70Z" fill="#dcdcdc"/>
<path d="M419.00 266.13L420.80 262.93H417.20Z" fill="#dcdcdc"/>
<path d="M433.50 283.84L435.30 280.64H431.70Z" fill="#dcdcdc"/>
<path d="M324.80 208.16V286.20H443.00" stroke="#000" stroke-width="0.95" fill="none"/>
<path d="M322.20 286.20H324.80" stroke="#000" stroke-width="0.9"/>
<text x="321.60" y="288.30" font-size="6.0" font-weight="bold" text-anchor="end" fill="#000" font-family='"Liberation Serif","DejaVu Serif",serif' >0</text>
<path d="M322.20 273.26H324.80" stroke="#000" stroke-width="0.9"/>
<text x="321.60" y="275.36" font-size="6.0" font-weight="bold" text-anchor="end" fill="#000" font-family='"Liberation Serif","DejaVu Serif",serif' >20</text>
<path d="M322.20 260.32H324.80" stroke="#000" stroke-width="0.9"/>
<text x="321.60" y="262.42" font-size="6.0" font-weight="bold" text-anchor="end" fill="#000" font-family='"Liberation Serif","DejaVu Serif",serif' >40</text>
<path d="M322.20 247.38H324.80" stroke="#000" stroke-width="0.9"/>
<text x="321.60" y="249.48" font-size="6.0" font-weight="bold" text-anchor="end" fill="#000" font-family='"Liberation Serif","DejaVu Serif",serif' >60</text>
<path d="M322.20 234.44H324.80" stroke="#000" stroke-width="0.9"/>
<text x="321.60" y="236.54" font-size="6.0" font-weight="bold" text-anchor="end" fill="#000" font-family='"Liberation Serif","DejaVu Serif",serif' >80</text>
<path d="M322.20 221.50H324.80" stroke="#000" stroke-width="0.9"/>
<text x="321.60" y="223.60" font-size="6.0" font-weight="bold" text-anchor="end" fill="#000" font-family='"Liberation Serif","DejaVu Serif",serif' >100</text>
<path d="M322.20 208.56H324.80" stroke="#000" stroke-width="0.9"/>
<text x="321.60" y="210.66" font-size="6.0" font-weight="bold" text-anchor="end" fill="#000" font-family='"Liberation Serif","DejaVu Serif",serif' >120</text>
<path d="M332.00 286.20v2.4" stroke="#000" stroke-width="0.9"/>
<text x="332.00" y="294.80" font-size="6.0" font-weight="bold" text-anchor="middle" fill="#000" font-family='"Liberation Serif","DejaVu Serif",serif' >0</text>
<path d="M346.50 286.20v2.4" stroke="#000" stroke-width="0.9"/>
<text x="346.50" y="294.80" font-size="6.0" font-weight="bold" text-anchor="middle" fill="#000" font-family='"Liberation Serif","DejaVu Serif",serif' >0.1</text>
<path d="M361.00 286.20v2.4" stroke="#000" stroke-width="0.9"/>
<text x="361.00" y="294.80" font-size="6.0" font-weight="bold" text-anchor="middle" fill="#000" font-family='"Liberation Serif","DejaVu Serif",serif' >0.5</text>
<path d="M375.50 286.20v2.4" stroke="#000" stroke-width="0.9"/>
<text x="375.50" y="294.80" font-size="6.0" font-weight="bold" text-anchor="middle" fill="#000" font-family='"Liberation Serif","DejaVu Serif",serif' >1</text>
<path d="M390.00 286.20v2.4" stroke="#000" stroke-width="0.9"/>
<text x="390.00" y="294.80" font-size="6.0" font-weight="bold" text-anchor="middle" fill="#000" font-family='"Liberation Serif","DejaVu Serif",serif' >5</text>
<path d="M404.50 286.20v2.4" stroke="#000" stroke-width="0.9"/>
<text x="404.50" y="294.80" font-size="6.0" font-weight="bold" text-anchor="middle" fill="#000" font-family='"Liberation Serif","DejaVu Serif",serif' >10</text>
<path d="M419.00 286.20v2.4" stroke="#000" stroke-width="0.9"/>
<text x="419.00" y="294.80" font-size="6.0" font-weight="bold" text-anchor="middle" fill="#000" font-family='"Liberation Serif","DejaVu Serif",serif' >50</text>
<path d="M433.50 286.20v2.4" stroke="#000" stroke-width="0.9"/>
<text x="433.50" y="294.80" font-size="6.0" font-weight="bold" text-anchor="middle" fill="#000" font-family='"Liberation Serif","DejaVu Serif",serif' >100</text>
<text x="383.20" y="303.60" font-size="6.1" font-weight="bold" text-anchor="middle" fill="#000" font-family='"Liberation Serif","DejaVu Serif",serif' letter-spacing="0.3">Doxorubicin (µM)</text>
<text transform="translate(309.30 247.38) rotate(-90)" font-size="6.2" font-weight="bold" text-anchor="middle" letter-spacing="0.3" font-family='"Liberation Serif","DejaVu Serif",serif'>Cell viability (%)</text>
<path d="M175.70 216.50H184.70" stroke="#000" stroke-width="1.15"/>
<circle cx="180.20" cy="216.50" r="1.5" fill="#000"/>
<text x="189.30" y="218.80" font-size="6.4" fill="#222" stroke="#222" stroke-width="0.12" font-family='"Liberation Serif","DejaVu Serif",serif'>2D, MCF7<tspan dy="-3.1" font-size="5.15">WT-SERTAD1</tspan></text>
<path d="M175.70 225.80H184.70" stroke="#c9c9c9" stroke-width="1.15"/>
<rect x="178.80" y="224.40" width="2.8" height="2.8" fill="#c9c9c9"/>
<text x="189.30" y="228.10" font-size="6.4" fill="#222" stroke="#222" stroke-width="0.12" font-family='"Liberation Serif","DejaVu Serif",serif'>2D, MCF7<tspan dy="-3.1" font-size="5.15">KD-SERTAD1</tspan></text>
<path d="M175.70 235.30H184.70" stroke="#000" stroke-width="1.15"/>
<path d="M180.20 233.40L182.00 236.60H178.40Z" fill="#000"/>
<text x="189.30" y="237.60" font-size="6.4" fill="#222" stroke="#222" stroke-width="0.12" font-family='"Liberation Serif","DejaVu Serif",serif'>3D, MCF7<tspan dy="-3.1" font-size="5.15">WT-SERTAD1</tspan></text>
<path d="M175.70 244.30H184.70" stroke="#dcdcdc" stroke-width="1.15"/>
<path d="M180.20 246.20L182.00 243.00H178.40Z" fill="#dcdcdc"/>
<text x="189.30" y="246.60" font-size="6.4" fill="#222" stroke="#222" stroke-width="0.12" font-family='"Liberation Serif","DejaVu Serif",serif'>3D, MCF7<tspan dy="-3.1" font-size="5.15">KD-SERTAD1</tspan></text>
<path d="M448.50 215.60H457.20" stroke="#000" stroke-width="1.15"/>
<circle cx="452.85" cy="215.60" r="1.5" fill="#000"/>
<text x="462.10" y="217.90" font-size="6.4" fill="#222" stroke="#222" stroke-width="0.12" font-family='"Liberation Serif","DejaVu Serif",serif'>2D, MCF7<tspan dy="-3.1" font-size="5.15">WT-SERTAD1</tspan></text>
<path d="M448.50 224.30H457.20" stroke="#c9c9c9" stroke-width="1.15"/>
<rect x="451.45" y="222.90" width="2.8" height="2.8" fill="#c9c9c9"/>
<text x="462.10" y="226.60" font-size="6.4" fill="#222" stroke="#222" stroke-width="0.12" font-family='"Liberation Serif","DejaVu Serif",serif'>2D, MCF7<tspan dy="-3.1" font-size="5.15">KD-SERTAD1</tspan></text>
<path d="M448.50 235.60H457.20" stroke="#000" stroke-width="1.15"/>
<path d="M452.85 233.70L454.65 236.90H451.05Z" fill="#000"/>
<text x="462.10" y="237.90" font-size="6.4" fill="#222" stroke="#222" stroke-width="0.12" font-family='"Liberation Serif","DejaVu Serif",serif'>3D, MCF7<tspan dy="-3.1" font-size="5.15">WT-SERTAD1</tspan></text>
<path d="M448.50 244.30H457.20" stroke="#dcdcdc" stroke-width="1.15"/>
<path d="M452.85 246.20L454.65 243.00H451.05Z" fill="#dcdcdc"/>
<text x="462.10" y="246.60" font-size="6.4" fill="#222" stroke="#222" stroke-width="0.12" font-family='"Liberation Serif","DejaVu Serif",serif'>3D, MCF7<tspan dy="-3.1" font-size="5.15">KD-SERTAD1</tspan></text>
</g></svg></body></html>
